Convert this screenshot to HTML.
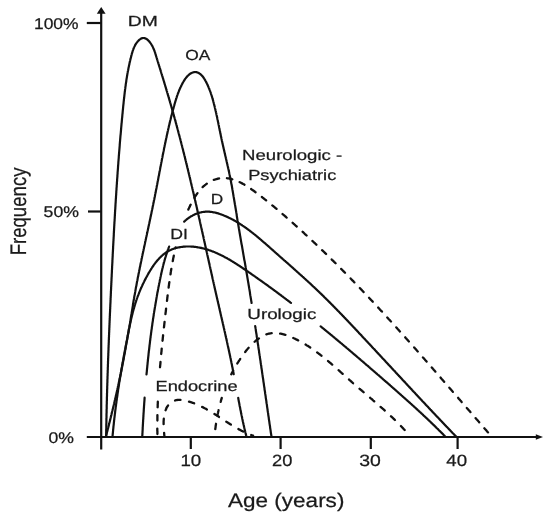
<!DOCTYPE html>
<html><head><meta charset="utf-8"><style>
html,body{margin:0;padding:0;background:#fff;}
svg{display:block;}
.solid{fill:none;stroke:#111;stroke-width:2.2;stroke-linejoin:round;stroke-linecap:round;}
.dash{fill:none;stroke:#111;stroke-width:2.3;stroke-dasharray:5.2 8.3;stroke-linecap:round;stroke-linejoin:round;}
.ax{fill:none;stroke:#111;stroke-width:2.2;}
.arr{fill:#111;stroke:none;}
.t{font-family:"Liberation Sans", Arial, sans-serif;text-rendering:geometricPrecision;fill:#1a1a1a;stroke:#1a1a1a;stroke-width:0.25;}
</style></head><body>
<svg width="550" height="517" viewBox="0 0 550 517">
<rect width="550" height="517" fill="#fff"/>
<g id="curves">
<path class="solid" d="M106.1 436.5L106.1 435.9L106.2 435.3L106.2 434.7L106.2 434.1L106.2 433.5L106.2 432.9L106.2 432.3L106.2 431.7L106.2 431.1L106.2 430.5L106.2 429.9L106.2 429.3L106.3 428.7L106.3 428.1L106.3 427.5L106.3 426.9L106.3 426.3L106.3 425.7L106.3 425.1L106.3 424.5L106.3 423.9L106.4 423.3L106.4 422.7L106.4 422.1L106.4 421.5L106.4 420.9L106.4 420.3L106.4 419.7L106.4 419.1L106.4 418.5L106.5 417.9L106.5 417.3L106.5 416.7L106.5 416.1L106.5 415.5L106.5 414.9L106.5 414.3L106.5 413.7L106.6 413.1L106.6 412.5L106.6 411.9L106.6 411.3L106.6 410.7L106.6 410.1L106.6 409.5L106.7 408.9L106.7 408.3L106.7 407.7L106.7 407.1L106.7 406.5L106.7 405.9L106.7 405.3L106.7 404.7L106.8 404.1L106.8 403.5L106.8 402.9L106.8 402.3L106.8 401.7L106.8 401.1L106.9 400.5L106.9 399.9L106.9 399.3L106.9 398.7L106.9 398.1L106.9 397.5L106.9 396.9L107.0 396.3L107.0 395.7L107.0 395.1L107.0 394.5L107.0 393.9L107.0 393.3L107.1 392.7L107.1 392.1L107.1 391.5L107.1 390.9L107.1 390.3L107.1 389.7L107.2 389.1L107.2 388.5L107.2 387.9L107.2 387.3L107.2 386.7L107.2 386.1L107.3 385.5L107.3 384.9L107.3 384.3L107.3 383.7L107.3 383.1L107.4 382.5L107.4 381.9L107.4 381.3L107.4 380.7L107.4 380.1L107.4 379.5L107.5 378.9L107.5 378.3L107.5 377.7L107.5 377.1L107.5 376.5L107.6 375.9L107.6 375.3L107.6 374.7L107.6 374.1L107.6 373.5L107.7 372.9L107.7 372.3L107.7 371.7L107.7 371.1L107.7 370.5L107.8 369.9L107.8 369.3L107.8 368.7L107.8 368.1L107.8 367.5L107.9 366.9L107.9 366.3L107.9 365.7L107.9 365.1L107.9 364.5L108.0 363.9L108.0 363.3L108.0 362.7L108.0 362.1L108.0 361.5L108.1 361.0L108.1 360.4L108.1 359.8L108.1 359.2L108.1 358.6L108.2 358.0L108.2 357.4L108.2 356.8L108.2 356.2L108.3 355.6L108.3 355.0L108.3 354.4L108.3 353.8L108.3 353.2L108.4 352.6L108.4 352.0L108.4 351.4L108.4 350.8L108.5 350.2L108.5 349.6L108.5 349.0L108.5 348.4L108.5 347.8L108.6 347.2L108.6 346.6L108.6 346.0L108.6 345.4L108.7 344.8L108.7 344.2L108.7 343.6L108.7 343.0L108.8 342.4L108.8 341.8L108.8 341.2L108.8 340.6L108.8 340.0L108.9 339.4L108.9 338.8L108.9 338.2L108.9 337.6L109.0 337.0L109.0 336.4L109.0 335.8L109.0 335.2L109.1 334.6L109.1 334.0L109.1 333.4L109.1 332.8L109.2 332.2L109.2 331.6L109.2 331.0L109.2 330.4L109.3 329.8L109.3 329.2L109.3 328.6L109.3 328.0L109.4 327.4L109.4 326.8L109.4 326.2L109.4 325.6L109.5 325.0L109.5 324.4L109.5 323.8L109.5 323.2L109.6 322.6L109.6 322.0L109.6 321.4L109.6 320.8L109.7 320.2L109.7 319.7L109.7 319.1L109.7 318.5L109.8 317.9L109.8 317.3L109.8 316.7L109.8 316.1L109.9 315.5L109.9 314.9L109.9 314.3L109.9 313.7L110.0 313.1L110.0 312.5L110.0 311.9L110.1 311.3L110.1 310.7L110.1 310.1L110.1 309.5L110.2 308.9L110.2 308.3L110.2 307.7L110.2 307.1L110.3 306.5L110.3 305.9L110.3 305.3L110.3 304.7L110.4 304.1L110.4 303.5L110.4 302.9L110.5 302.3L110.5 301.7L110.5 301.1L110.5 300.5L110.6 299.9L110.6 299.3L110.6 298.7L110.6 298.1L110.7 297.5L110.7 296.9L110.7 296.3L110.8 295.7L110.8 295.1L110.8 294.5L110.8 293.9L110.9 293.3L110.9 292.7L110.9 292.1L110.9 291.5L111.0 290.9L111.0 290.3L111.0 289.7L111.1 289.1L111.1 288.5L111.1 287.9L111.1 287.3L111.2 286.7L111.2 286.1L111.2 285.5L111.3 284.9L111.3 284.3L111.3 283.7L111.3 283.1L111.4 282.5L111.4 281.9L111.4 281.3L111.5 280.7L111.5 280.1L111.5 279.5L111.5 278.9L111.6 278.3L111.6 277.7L111.6 277.1L111.7 276.5L111.7 275.9L111.7 275.3L111.7 274.7L111.8 274.1L111.8 273.5L111.8 272.9L111.9 272.3L111.9 271.7L111.9 271.1L111.9 270.5L112.0 269.9L112.0 269.3L112.0 268.7L112.1 268.1L112.1 267.5L112.1 266.9L112.1 266.3L112.2 265.8L112.2 265.2L112.2 264.6L112.3 264.0L112.3 263.4L112.3 262.8L112.4 262.2L112.4 261.6L112.4 261.0L112.4 260.4L112.5 259.8L112.5 259.2L112.5 258.6L112.6 258.0L112.6 257.4L112.6 256.8L112.7 256.2L112.7 255.6L112.7 255.0L112.7 254.4L112.8 253.8L112.8 253.2L112.8 252.6L112.9 252.0L112.9 251.4L112.9 250.8L113.0 250.2L113.0 249.6L113.0 249.0L113.1 248.4L113.1 247.8L113.1 247.2L113.1 246.6L113.2 246.0L113.2 245.4L113.2 244.8L113.3 244.2L113.3 243.6L113.3 243.0L113.4 242.4L113.4 241.8L113.4 241.2L113.5 240.6L113.5 240.0L113.5 239.4L113.6 238.8L113.6 238.2L113.6 237.6L113.7 237.0L113.7 236.4L113.7 235.8L113.8 235.2L113.8 234.6L113.8 234.0L113.8 233.4L113.9 232.8L113.9 232.2L113.9 231.6L114.0 231.0L114.0 230.4L114.0 229.8L114.1 229.2L114.1 228.6L114.1 228.0L114.2 227.4L114.2 226.8L114.2 226.2L114.3 225.6L114.3 225.0L114.3 224.4L114.4 223.8L114.4 223.2L114.4 222.6L114.5 222.0L114.5 221.4L114.6 220.8L114.6 220.2L114.6 219.6L114.7 219.0L114.7 218.4L114.7 217.8L114.8 217.2L114.8 216.6L114.8 216.0L114.9 215.4L114.9 214.8L114.9 214.2L115.0 213.6L115.0 213.0L115.0 212.4L115.1 211.8L115.1 211.2L115.1 210.6L115.2 210.0L115.2 209.4L115.3 208.8L115.3 208.2L115.3 207.6L115.4 207.0L115.4 206.4L115.4 205.8L115.5 205.2L115.5 204.6L115.5 204.0L115.6 203.4L115.6 202.8L115.7 202.2L115.7 201.6L115.7 201.0L115.8 200.4L115.8 199.8L115.8 199.2L115.9 198.6L115.9 198.0L116.0 197.4L116.0 196.8L116.0 196.2L116.1 195.6L116.1 195.0L116.2 194.4L116.2 193.8L116.2 193.2L116.3 192.6L116.3 192.0L116.3 191.4L116.4 190.8L116.4 190.2L116.5 189.6L116.5 189.0L116.5 188.4L116.6 187.8L116.6 187.2L116.7 186.6L116.7 186.0L116.7 185.4L116.8 184.9L116.8 184.3L116.9 183.7L116.9 183.1L116.9 182.5L117.0 181.9L117.0 181.3L117.1 180.7L117.1 180.1L117.1 179.5L117.2 178.9L117.2 178.3L117.3 177.7L117.3 177.1L117.4 176.5L117.4 175.9L117.4 175.3L117.5 174.7L117.5 174.1L117.6 173.5L117.6 172.9L117.6 172.3L117.7 171.7L117.7 171.1L117.8 170.5L117.8 169.9L117.9 169.3L117.9 168.7L118.0 168.1L118.0 167.5L118.0 166.9L118.1 166.3L118.1 165.7L118.2 165.1L118.2 164.5L118.3 163.9L118.3 163.3L118.3 162.7L118.4 162.1L118.4 161.5L118.5 160.9L118.5 160.3L118.6 159.7L118.6 159.1L118.7 158.5L118.7 157.9L118.8 157.3L118.8 156.7L118.8 156.1L118.9 155.5L118.9 154.9L119.0 154.4L119.0 153.8L119.1 153.2L119.1 152.6L119.2 152.0L119.2 151.4L119.3 150.8L119.3 150.2L119.4 149.6L119.4 149.0L119.5 148.4L119.5 147.8L119.6 147.2L119.6 146.6L119.7 146.0L119.7 145.4L119.7 144.8L119.8 144.2L119.8 143.6L119.9 143.0L119.9 142.4L120.0 141.8L120.0 141.2L120.1 140.6L120.1 140.0L120.2 139.4L120.2 138.8L120.3 138.2L120.3 137.6L120.4 137.0L120.4 136.4L120.5 135.8L120.5 135.3L120.6 134.7L120.7 134.1L120.7 133.5L120.8 132.9L120.8 132.3L120.9 131.7L120.9 131.1L121.0 130.5L121.0 129.9L121.1 129.3L121.1 128.7L121.2 128.1L121.2 127.5L121.3 126.9L121.3 126.3L121.4 125.7L121.4 125.1L121.5 124.5L121.5 123.9L121.6 123.3L121.7 122.7L121.7 122.1L121.8 121.5L121.8 120.9L121.9 120.4L121.9 119.8L122.0 119.2L122.0 118.6L122.1 118.0L122.2 117.4L122.2 116.8L122.3 116.2L122.3 115.6L122.4 115.0L122.4 114.4L122.5 113.8L122.6 113.2L122.6 112.6L122.7 112.0L122.7 111.4L122.8 110.8L122.8 110.2L122.9 109.6L123.0 109.0L123.0 108.5L123.1 107.9L123.1 107.3L123.2 106.7L123.2 106.1L123.3 105.5L123.4 104.9L123.4 104.3L123.5 103.7L123.6 103.1L123.6 102.5L123.7 101.9L123.7 101.3L123.8 100.7L123.9 100.1L123.9 99.5L124.0 98.9L124.1 98.3L124.1 97.8L124.2 97.2L124.3 96.6L124.3 96.0L124.4 95.4L124.5 94.8L124.5 94.2L124.6 93.6L124.7 93.0L124.7 92.4L124.8 91.8L124.9 91.2L125.0 90.6L125.0 90.0L125.1 89.4L125.2 88.9L125.3 88.3L125.3 87.7L125.4 87.1L125.5 86.5L125.6 85.9L125.7 85.3L125.7 84.7L125.8 84.1L125.9 83.5L126.0 82.9L126.1 82.3L126.2 81.7L126.3 81.1L126.3 80.6L126.4 80.0L126.5 79.4L126.6 78.8L126.7 78.2L126.8 77.6L126.9 77.0L127.0 76.4L127.1 75.8L127.2 75.2L127.3 74.6L127.4 74.0L127.5 73.4L127.6 72.8L127.7 72.3L127.8 71.7L127.9 71.1L128.1 70.5L128.2 69.9L128.3 69.3L128.4 68.7L128.5 68.1L128.6 67.5L128.8 66.9L128.9 66.3L129.0 65.7L129.1 65.2L129.3 64.6L129.4 64.0L129.5 63.4L129.6 62.8L129.8 62.2L129.9 61.6L130.1 61.0L130.2 60.4L130.3 59.8L130.5 59.2L130.6 58.6L130.8 58.1L130.9 57.5L131.1 56.9L131.2 56.3L131.4 55.7L131.5 55.1L131.7 54.5L131.8 53.9L132.0 53.3L132.2 52.7L132.4 52.2L132.5 51.6L132.7 51.0L132.9 50.4L133.1 49.8L133.3 49.3L133.5 48.7L133.8 48.1L134.0 47.6L134.2 47.0L134.5 46.5L134.8 45.9L135.0 45.4L135.3 44.9L135.6 44.4L135.9 43.9L136.3 43.3L136.6 42.9L137.0 42.4L137.4 41.9L137.7 41.4L138.2 41.0L138.6 40.5L139.0 40.1L139.4 39.7L139.9 39.4L140.3 39.1L140.8 38.8L141.3 38.5L141.7 38.3L142.2 38.2L142.7 38.1L143.2 38.0L143.7 38.0L144.1 38.0L144.6 38.2L145.1 38.3L145.6 38.5L146.0 38.7L146.5 39.0L147.0 39.3L147.4 39.7L147.9 40.1L148.3 40.5L148.7 40.9L149.1 41.4L149.6 41.9L150.0 42.4L150.3 42.9L150.7 43.4L151.1 44.0L151.4 44.5L151.8 45.1L152.1 45.6L152.4 46.2L152.7 46.8L153.0 47.3L153.2 47.9L153.5 48.5L153.7 49.0L153.9 49.6L154.2 50.2L154.4 50.7L154.6 51.3L154.8 51.9L155.0 52.4L155.2 53.0L155.3 53.6L155.5 54.1L155.7 54.7L155.9 55.3L156.0 55.9L156.2 56.4L156.4 57.0L156.6 57.6L156.8 58.1L156.9 58.7L157.1 59.3L157.3 59.8L157.5 60.4L157.6 61.0L157.8 61.6L158.0 62.1L158.2 62.7L158.3 63.3L158.5 63.8L158.7 64.4L158.9 65.0L159.0 65.6L159.2 66.1L159.4 66.7L159.6 67.3L159.8 67.8L159.9 68.4L160.1 69.0L160.3 69.5L160.5 70.1L160.6 70.7L160.8 71.3L161.0 71.8L161.2 72.4L161.3 73.0L161.5 73.6L161.7 74.1L161.9 74.7L162.0 75.3L162.2 75.8L162.4 76.4L162.6 77.0L162.7 77.6L162.9 78.1L163.1 78.7L163.3 79.3L163.4 79.9L163.6 80.4L163.8 81.0L164.0 81.6L164.1 82.1L164.3 82.7L164.5 83.3L164.6 83.9L164.8 84.4L165.0 85.0L165.2 85.6L165.3 86.2L165.5 86.7L165.7 87.3L165.9 87.9L166.0 88.5L166.2 89.0L166.4 89.6L166.5 90.2L166.7 90.8L166.9 91.3L167.1 91.9L167.2 92.5L167.4 93.1L167.6 93.6L167.7 94.2L167.9 94.8L168.1 95.4L168.2 95.9L168.4 96.5L168.6 97.1L168.8 97.7L168.9 98.2L169.1 98.8L169.3 99.4L169.4 100.0L169.6 100.5L169.8 101.1L169.9 101.7L170.1 102.3L170.3 102.8L170.4 103.4L170.6 104.0L170.8 104.6L170.9 105.2L171.1 105.7L171.3 106.3L171.4 106.9L171.6 107.5L171.8 108.0L171.9 108.6L172.1 109.2L172.2 109.8L172.4 110.3L172.6 110.9L172.7 111.5L172.9 112.1L173.1 112.7L173.2 113.2L173.4 113.8L173.5 114.4L173.7 115.0L173.9 115.5L174.0 116.1L174.2 116.7L174.4 117.3L174.5 117.9L174.7 118.4L174.8 119.0L175.0 119.6L175.2 120.2L175.3 120.7L175.5 121.3L175.6 121.9L175.8 122.5L175.9 123.1L176.1 123.6L176.3 124.2L176.4 124.8L176.6 125.4L176.7 125.9L176.9 126.5L177.0 127.1L177.2 127.7L177.4 128.3L177.5 128.8L177.7 129.4L177.8 130.0L178.0 130.6L178.1 131.2L178.3 131.7L178.4 132.3L178.6 132.9L178.7 133.5L178.9 134.1L179.0 134.6L179.2 135.2L179.4 135.8L179.5 136.4L179.7 137.0L179.8 137.5L180.0 138.1L180.1 138.7L180.3 139.3L180.4 139.9L180.6 140.4L180.7 141.0L180.9 141.6L181.0 142.2L181.2 142.8L181.3 143.3L181.5 143.9L181.6 144.5L181.8 145.1L181.9 145.7L182.1 146.2L182.2 146.8L182.4 147.4L182.5 148.0L182.7 148.6L182.8 149.2L183.0 149.7L183.1 150.3L183.2 150.9L183.4 151.5L183.5 152.1L183.7 152.6L183.8 153.2L184.0 153.8L184.1 154.4L184.3 155.0L184.4 155.5L184.6 156.1L184.7 156.7L184.9 157.3L185.0 157.9L185.1 158.5L185.3 159.0L185.4 159.6L185.6 160.2L185.7 160.8L185.9 161.4L186.0 161.9L186.1 162.5L186.3 163.1L186.4 163.7L186.6 164.3L186.7 164.9L186.9 165.4L187.0 166.0L187.1 166.6L187.3 167.2L187.4 167.8L187.6 168.4L187.7 168.9L187.9 169.5L188.0 170.1L188.1 170.7L188.3 171.3L188.4 171.8L188.6 172.4L188.7 173.0L188.8 173.6L189.0 174.2L189.1 174.8L189.3 175.3L189.4 175.9L189.5 176.5L189.7 177.1L189.8 177.7L190.0 178.3L190.1 178.8L190.2 179.4L190.4 180.0L190.5 180.6L190.7 181.2L190.8 181.8L190.9 182.3L191.1 182.9L191.2 183.5L191.3 184.1L191.5 184.7L191.6 185.3L191.8 185.8L191.9 186.4L192.0 187.0L192.2 187.6L192.3 188.2L192.4 188.8L192.6 189.3L192.7 189.9L192.8 190.5L193.0 191.1L193.1 191.7L193.3 192.3L193.4 192.8L193.5 193.4L193.7 194.0L193.8 194.6L193.9 195.2L194.1 195.8L194.2 196.4L194.3 196.9L194.5 197.5L194.6 198.1L194.7 198.7L194.9 199.3L195.0 199.9L195.1 200.4L195.3 201.0L195.4 201.6L195.5 202.2L195.7 202.8L195.8 203.4L195.9 203.9L196.1 204.5L196.2 205.1L196.4 205.7L196.5 206.3L196.6 206.9L196.8 207.5L196.9 208.0L197.0 208.6L197.1 209.2L197.3 209.8L197.4 210.4L197.5 211.0L197.7 211.5L197.8 212.1L197.9 212.7L198.1 213.3L198.2 213.9L198.3 214.5L198.5 215.1L198.6 215.6L198.7 216.2L198.9 216.8L199.0 217.4L199.1 218.0L199.3 218.6L199.4 219.1L199.5 219.7L199.7 220.3L199.8 220.9L199.9 221.5L200.1 222.1L200.2 222.7L200.3 223.2L200.4 223.8L200.6 224.4L200.7 225.0L200.8 225.6L201.0 226.2L201.1 226.8L201.2 227.3L201.4 227.9L201.5 228.5L201.6 229.1L201.8 229.7L201.9 230.3L202.0 230.8L202.1 231.4L202.3 232.0L202.4 232.6L202.5 233.2L202.7 233.8L202.8 234.4L202.9 234.9L203.1 235.5L203.2 236.1L203.3 236.7L203.5 237.3L203.6 237.9L203.7 238.5L203.8 239.0L204.0 239.6L204.1 240.2L204.2 240.8L204.4 241.4L204.5 242.0L204.6 242.6L204.8 243.1L204.9 243.7L205.0 244.3L205.1 244.9L205.3 245.5L205.4 246.1L205.5 246.7L205.7 247.2L205.8 247.8L205.9 248.4L206.0 249.0L206.2 249.6L206.3 250.2L206.4 250.7L206.6 251.3L206.7 251.9L206.8 252.5L207.0 253.1L207.1 253.7L207.2 254.3L207.3 254.8L207.5 255.4L207.6 256.0L207.7 256.6L207.9 257.2L208.0 257.8L208.1 258.4L208.3 258.9L208.4 259.5L208.5 260.1L208.6 260.7L208.8 261.3L208.9 261.9L209.0 262.5L209.2 263.0L209.3 263.6L209.4 264.2L209.6 264.8L209.7 265.4L209.8 266.0L209.9 266.5L210.1 267.1L210.2 267.7L210.3 268.3L210.5 268.9L210.6 269.5L210.7 270.1L210.9 270.6L211.0 271.2L211.1 271.8L211.2 272.4L211.4 273.0L211.5 273.6L211.6 274.2L211.8 274.7L211.9 275.3L212.0 275.9L212.2 276.5L212.3 277.1L212.4 277.7L212.5 278.3L212.7 278.8L212.8 279.4L212.9 280.0L213.1 280.6L213.2 281.2L213.3 281.8L213.5 282.3L213.6 282.9L213.7 283.5L213.9 284.1L214.0 284.7L214.1 285.3L214.3 285.9L214.4 286.4L214.5 287.0L214.6 287.6L214.8 288.2L214.9 288.8L215.0 289.4L215.2 289.9L215.3 290.5L215.4 291.1L215.6 291.7L215.7 292.3L215.8 292.9L216.0 293.5L216.1 294.0L216.2 294.6L216.4 295.2L216.5 295.8L216.6 296.4L216.8 297.0L216.9 297.5L217.0 298.1L217.2 298.7L217.3 299.3L217.4 299.9L217.6 300.5L217.7 301.1L217.8 301.6L218.0 302.2L218.1 302.8L218.2 303.4L218.4 304.0L218.5 304.6L218.6 305.1L218.8 305.7L218.9 306.3L219.0 306.9L219.2 307.5L219.3 308.1L219.4 308.6L219.6 309.2L219.7 309.8L219.8 310.4L220.0 311.0L220.1 311.6L220.2 312.1L220.4 312.7L220.5 313.3L220.6 313.9L220.8 314.5L220.9 315.1L221.0 315.7L221.2 316.2L221.3 316.8L221.5 317.4L221.6 318.0L221.7 318.6L221.9 319.2L222.0 319.7L222.1 320.3L222.3 320.9L222.4 321.5L222.5 322.1L222.7 322.7L222.8 323.2L222.9 323.8L223.1 324.4L223.2 325.0L223.3 325.6L223.5 326.2L223.6 326.7L223.7 327.3L223.9 327.9L224.0 328.5L224.1 329.1L224.3 329.7L224.4 330.3L224.5 330.8L224.7 331.4L224.8 332.0L224.9 332.6L225.1 333.2L225.2 333.8L225.3 334.3L225.4 334.9L225.6 335.5L225.7 336.1L225.8 336.7L226.0 337.3L226.1 337.9L226.2 338.4L226.4 339.0L226.5 339.6L226.6 340.2L226.8 340.8L226.9 341.4L227.0 341.9L227.1 342.5L227.3 343.1L227.4 343.7L227.5 344.3L227.7 344.9L227.8 345.5L227.9 346.0L228.0 346.6L228.2 347.2L228.3 347.8L228.4 348.4L228.6 349.0L228.7 349.6L228.8 350.1L228.9 350.7L229.1 351.3L229.2 351.9L229.3 352.5L229.4 353.1L229.6 353.7L229.7 354.2L229.8 354.8L229.9 355.4L230.1 356.0L230.2 356.6L230.3 357.2L230.4 357.8L230.6 358.3L230.7 358.9L230.8 359.5L230.9 360.1L231.0 360.7L231.2 361.3L231.3 361.9L231.4 362.5L231.5 363.0L231.6 363.6L231.8 364.2L231.9 364.8L232.0 365.4L232.1 366.0L232.2 366.6L232.4 367.2L232.5 367.7L232.6 368.3L232.7 368.9L232.8 369.5L232.9 370.1L233.1 370.7L233.2 371.3L233.3 371.9L233.4 372.4L233.5 373.0L233.6 373.6L233.7 374.2"/>
<path class="solid" d="M238.2 397.8L238.3 398.4L238.4 399.0L238.5 399.6L238.6 400.1L238.7 400.7L238.8 401.3L238.9 401.9L239.1 402.5L239.2 403.1L239.3 403.7L239.4 404.3L239.5 404.9L239.6 405.5L239.7 406.0L239.8 406.6L240.0 407.2L240.1 407.8L240.2 408.4L240.3 409.0L240.4 409.6L240.5 410.2L240.7 410.7L240.8 411.3L240.9 411.9L241.0 412.5L241.1 413.1L241.2 413.7L241.4 414.3L241.5 414.9L241.6 415.4L241.7 416.0L241.9 416.6L242.0 417.2L242.1 417.8L242.2 418.4L242.3 419.0L242.5 419.6L242.6 420.1L242.7 420.7L242.8 421.3L243.0 421.9L243.1 422.5L243.2 423.1L243.4 423.7L243.5 424.2L243.6 424.8L243.8 425.4L243.9 426.0L244.0 426.6L244.2 427.2L244.3 427.8L244.4 428.3L244.6 428.9L244.7 429.5L244.8 430.1L245.0 430.7L245.1 431.3L245.3 431.8L245.4 432.4L245.5 433.0L245.7 433.6L245.8 434.2L246.0 434.8L246.1 435.3L246.3 435.9L246.4 436.5"/>
<path class="solid" d="M112.5 436.5L112.6 435.9L112.6 435.3L112.7 434.7L112.7 434.1L112.8 433.5L112.9 432.9L112.9 432.3L113.0 431.7L113.0 431.1L113.1 430.5L113.1 429.9L113.2 429.3L113.3 428.7L113.3 428.1L113.4 427.5L113.4 426.9L113.5 426.3L113.6 425.8L113.6 425.2L113.7 424.6L113.8 424.0L113.8 423.4L113.9 422.8L113.9 422.2L114.0 421.6L114.1 421.0L114.1 420.4L114.2 419.8L114.3 419.2L114.3 418.6L114.4 418.0L114.5 417.4L114.6 416.8L114.6 416.2L114.7 415.6L114.8 415.0L114.8 414.4L114.9 413.8L115.0 413.2L115.1 412.6L115.1 412.0L115.2 411.4L115.3 410.8L115.3 410.3L115.4 409.7L115.5 409.1L115.6 408.5L115.6 407.9L115.7 407.3L115.8 406.7L115.9 406.1L116.0 405.5L116.0 404.9L116.1 404.3L116.2 403.7L116.3 403.1L116.4 402.5L116.4 401.9L116.5 401.3L116.6 400.7L116.7 400.1L116.8 399.5L116.8 398.9L116.9 398.4L117.0 397.8L117.1 397.2L117.2 396.6L117.3 396.0L117.4 395.4L117.4 394.8L117.5 394.2L117.6 393.6L117.7 393.0L117.8 392.4L117.9 391.8L118.0 391.2L118.0 390.6L118.1 390.0L118.2 389.4L118.3 388.9L118.4 388.3L118.5 387.7L118.6 387.1L118.7 386.5L118.8 385.9L118.9 385.3L119.0 384.7L119.0 384.1L119.1 383.5L119.2 382.9L119.3 382.3L119.4 381.7L119.5 381.2L119.6 380.6L119.7 380.0L119.8 379.4L119.9 378.8L120.0 378.2L120.1 377.6L120.2 377.0L120.3 376.4L120.4 375.8L120.5 375.2L120.6 374.6L120.7 374.0L120.8 373.5L120.9 372.9L121.0 372.3L121.1 371.7L121.2 371.1L121.3 370.5L121.4 369.9L121.5 369.3L121.6 368.7L121.7 368.1L121.8 367.5L121.9 367.0L122.0 366.4L122.1 365.8L122.2 365.2L122.3 364.6L122.4 364.0L122.5 363.4L122.6 362.8L122.7 362.2L122.9 361.6L123.0 361.0L123.1 360.5L123.2 359.9L123.3 359.3L123.4 358.7L123.5 358.1L123.6 357.5L123.7 356.9L123.8 356.3L123.9 355.7L124.0 355.1L124.2 354.6L124.3 354.0L124.4 353.4L124.5 352.8L124.6 352.2L124.7 351.6L124.8 351.0L124.9 350.4L125.0 349.8L125.2 349.3L125.3 348.7L125.4 348.1L125.5 347.5L125.6 346.9L125.7 346.3L125.8 345.7L125.9 345.1L126.1 344.5L126.2 344.0L126.3 343.4L126.4 342.8L126.5 342.2L126.6 341.6L126.7 341.0L126.9 340.4L127.0 339.8L127.1 339.2L127.2 338.7L127.3 338.1L127.4 337.5L127.5 336.9L127.6 336.3L127.7 335.7L127.9 335.1L128.0 334.5L128.1 333.9L128.2 333.4L128.3 332.8L128.4 332.2L128.5 331.6L128.6 331.0L128.7 330.4L128.8 329.8L128.9 329.2L129.0 328.6L129.1 328.0L129.2 327.5L129.3 326.9L129.5 326.3L129.6 325.7L129.7 325.1L129.8 324.5L129.9 323.9L130.0 323.3L130.1 322.7L130.2 322.1L130.3 321.5L130.4 320.9L130.5 320.4L130.6 319.8L130.6 319.2L130.7 318.6L130.8 318.0L130.9 317.4L131.0 316.8L131.1 316.2L131.2 315.6L131.3 315.0L131.4 314.4L131.5 313.8L131.6 313.3L131.7 312.7L131.8 312.1L131.9 311.5L132.0 310.9L132.1 310.3L132.2 309.7L132.3 309.1L132.4 308.5L132.5 307.9L132.6 307.3L132.7 306.7L132.8 306.1L132.9 305.6L132.9 305.0L133.0 304.4L133.1 303.8L133.2 303.2L133.3 302.6L133.4 302.0L133.5 301.4L133.6 300.8L133.7 300.2L133.8 299.6L133.9 299.0L134.0 298.5L134.1 297.9L134.2 297.3L134.3 296.7L134.4 296.1L134.5 295.5L134.7 294.9L134.8 294.3L134.9 293.7L135.0 293.1L135.1 292.5L135.2 292.0L135.3 291.4L135.4 290.8L135.5 290.2L135.6 289.6L135.7 289.0L135.8 288.4L135.9 287.8L136.0 287.2L136.1 286.6L136.3 286.1L136.4 285.5L136.5 284.9L136.6 284.3L136.7 283.7L136.8 283.1L136.9 282.5L137.0 281.9L137.1 281.3L137.3 280.8L137.4 280.2L137.5 279.6L137.6 279.0L137.7 278.4L137.8 277.8L137.9 277.2L138.1 276.6L138.2 276.1L138.3 275.5L138.4 274.9L138.5 274.3L138.6 273.7L138.8 273.1L138.9 272.5L139.0 271.9L139.1 271.4L139.2 270.8L139.3 270.2L139.5 269.6L139.6 269.0L139.7 268.4L139.8 267.8L139.9 267.2L140.1 266.7L140.2 266.1L140.3 265.5L140.4 264.9L140.5 264.3L140.7 263.7L140.8 263.1L140.9 262.5L141.0 262.0L141.1 261.4L141.3 260.8L141.4 260.2L141.5 259.6L141.6 259.0L141.8 258.4L141.9 257.9L142.0 257.3L142.1 256.7L142.2 256.1L142.4 255.5L142.5 254.9L142.6 254.3L142.7 253.7L142.9 253.2L143.0 252.6L143.1 252.0L143.2 251.4L143.4 250.8L143.5 250.2L143.6 249.6L143.7 249.1L143.9 248.5L144.0 247.9L144.1 247.3L144.2 246.7L144.4 246.1L144.5 245.5L144.6 245.0L144.7 244.4L144.9 243.8L145.0 243.2L145.1 242.6L145.2 242.0L145.4 241.4L145.5 240.9L145.6 240.3L145.7 239.7L145.9 239.1L146.0 238.5L146.1 237.9L146.2 237.3L146.4 236.7L146.5 236.2L146.6 235.6L146.8 235.0L146.9 234.4L147.0 233.8L147.1 233.2L147.3 232.6L147.4 232.1L147.5 231.5L147.6 230.9L147.8 230.3L147.9 229.7L148.0 229.1L148.1 228.5L148.3 228.0L148.4 227.4L148.5 226.8L148.6 226.2L148.8 225.6L148.9 225.0L149.0 224.4L149.1 223.8L149.3 223.3L149.4 222.7L149.5 222.1L149.6 221.5L149.8 220.9L149.9 220.3L150.0 219.7L150.1 219.2L150.3 218.6L150.4 218.0L150.5 217.4L150.6 216.8L150.8 216.2L150.9 215.6L151.0 215.0L151.1 214.5L151.3 213.9L151.4 213.3L151.5 212.7L151.6 212.1L151.7 211.5L151.9 210.9L152.0 210.3L152.1 209.8L152.2 209.2L152.4 208.6L152.5 208.0L152.6 207.4L152.7 206.8L152.8 206.2L153.0 205.6L153.1 205.0L153.2 204.5L153.3 203.9L153.4 203.3L153.6 202.7L153.7 202.1L153.8 201.5L153.9 200.9L154.0 200.3L154.2 199.8L154.3 199.2L154.4 198.6L154.5 198.0L154.6 197.4L154.8 196.8L154.9 196.2L155.0 195.6L155.1 195.0L155.2 194.4L155.3 193.9L155.4 193.3L155.6 192.7L155.7 192.1L155.8 191.5L155.9 190.9L156.0 190.3L156.1 189.7L156.3 189.1L156.4 188.5L156.5 188.0L156.6 187.4L156.7 186.8L156.8 186.2L156.9 185.6L157.1 185.0L157.2 184.4L157.3 183.8L157.4 183.2L157.5 182.6L157.6 182.1L157.7 181.5L157.8 180.9L158.0 180.3L158.1 179.7L158.2 179.1L158.3 178.5L158.4 177.9L158.5 177.3L158.6 176.7L158.7 176.1L158.9 175.6L159.0 175.0L159.1 174.4L159.2 173.8L159.3 173.2L159.4 172.6L159.5 172.0L159.6 171.4L159.8 170.8L159.9 170.2L160.0 169.7L160.1 169.1L160.2 168.5L160.3 167.9L160.4 167.3L160.5 166.7L160.7 166.1L160.8 165.5L160.9 164.9L161.0 164.3L161.1 163.7L161.2 163.2L161.3 162.6L161.5 162.0L161.6 161.4L161.7 160.8L161.8 160.2L161.9 159.6L162.0 159.0L162.1 158.4L162.3 157.8L162.4 157.3L162.5 156.7L162.6 156.1L162.7 155.5L162.8 154.9L162.9 154.3L163.1 153.7L163.2 153.1L163.3 152.5L163.4 152.0L163.5 151.4L163.7 150.8L163.8 150.2L163.9 149.6L164.0 149.0L164.1 148.4L164.2 147.8L164.4 147.2L164.5 146.7L164.6 146.1L164.7 145.5L164.8 144.9L165.0 144.3L165.1 143.7L165.2 143.1L165.3 142.5L165.5 142.0L165.6 141.4L165.7 140.8L165.8 140.2L166.0 139.6L166.1 139.0L166.2 138.4L166.3 137.9L166.5 137.3L166.6 136.7L166.7 136.1L166.8 135.5L167.0 134.9L167.1 134.3L167.2 133.8L167.4 133.2L167.5 132.6L167.6 132.0L167.7 131.4L167.9 130.8L168.0 130.3L168.1 129.7L168.3 129.1L168.4 128.5L168.5 127.9L168.7 127.3L168.8 126.7L168.9 126.2L169.1 125.6L169.2 125.0L169.4 124.4L169.5 123.8L169.6 123.3L169.8 122.7L169.9 122.1L170.0 121.5L170.2 120.9L170.3 120.3L170.5 119.8L170.6 119.2L170.8 118.6L170.9 118.0L171.0 117.4L171.2 116.9L171.3 116.3L171.5 115.7L171.6 115.1L171.8 114.6L171.9 114.0L172.1 113.4L172.2 112.8L172.4 112.2L172.5 111.7L172.7 111.1L172.8 110.5L173.0 109.9L173.1 109.4L173.3 108.8L173.5 108.2L173.6 107.6L173.8 107.0L173.9 106.5L174.1 105.9L174.3 105.3L174.4 104.7L174.6 104.2L174.7 103.6L174.9 103.0L175.1 102.5L175.2 101.9L175.4 101.3L175.6 100.7L175.8 100.2L175.9 99.6L176.1 99.0L176.3 98.5L176.5 97.9L176.7 97.3L176.8 96.8L177.0 96.2L177.2 95.6L177.4 95.1L177.6 94.5L177.8 93.9L178.0 93.4L178.3 92.8L178.5 92.2L178.7 91.7L178.9 91.1L179.1 90.6L179.4 90.0L179.6 89.4L179.8 88.9L180.1 88.3L180.3 87.8L180.6 87.2L180.8 86.7L181.1 86.1L181.4 85.6L181.6 85.0L181.9 84.5L182.2 83.9L182.5 83.4L182.8 82.8L183.1 82.3L183.4 81.8L183.7 81.2L184.0 80.7L184.4 80.2L184.7 79.6L185.0 79.1L185.4 78.6L185.8 78.1L186.1 77.6L186.5 77.2L186.9 76.7L187.3 76.2L187.8 75.8L188.2 75.4L188.7 75.0L189.1 74.6L189.6 74.2L190.1 73.8L190.6 73.5L191.1 73.2L191.6 72.9L192.1 72.7L192.7 72.5L193.2 72.3L193.8 72.2L194.3 72.1L194.9 72.0L195.4 72.0L195.9 72.1L196.5 72.2L197.0 72.3L197.6 72.5L198.1 72.7L198.6 73.0L199.1 73.3L199.6 73.6L200.1 74.0L200.6 74.3L201.0 74.7L201.5 75.2L201.9 75.6L202.3 76.0L202.7 76.5L203.1 77.0L203.4 77.5L203.8 78.0L204.1 78.5L204.5 79.1L204.8 79.6L205.1 80.1L205.4 80.7L205.7 81.2L206.0 81.8L206.3 82.4L206.6 82.9L206.8 83.5L207.1 84.0L207.4 84.6L207.6 85.1L207.9 85.7L208.1 86.3L208.4 86.8L208.6 87.4L208.8 87.9L209.1 88.5L209.3 89.0L209.5 89.6L209.7 90.2L209.9 90.7L210.2 91.3L210.4 91.9L210.6 92.4L210.8 93.0L210.9 93.5L211.1 94.1L211.3 94.7L211.5 95.2L211.7 95.8L211.9 96.4L212.0 96.9L212.2 97.5L212.4 98.1L212.5 98.6L212.7 99.2L212.9 99.8L213.0 100.4L213.2 100.9L213.3 101.5L213.5 102.1L213.6 102.7L213.8 103.2L213.9 103.8L214.1 104.4L214.2 105.0L214.4 105.5L214.5 106.1L214.7 106.7L214.8 107.3L214.9 107.8L215.1 108.4L215.2 109.0L215.4 109.6L215.5 110.2L215.6 110.8L215.8 111.3L215.9 111.9L216.0 112.5L216.2 113.1L216.3 113.7L216.4 114.3L216.5 114.8L216.7 115.4L216.8 116.0L216.9 116.6L217.1 117.2L217.2 117.8L217.3 118.4L217.4 119.0L217.5 119.5L217.7 120.1L217.8 120.7L217.9 121.3L218.0 121.9L218.2 122.5L218.3 123.1L218.4 123.7L218.5 124.3L218.6 124.8L218.8 125.4L218.9 126.0L219.0 126.6L219.1 127.2L219.2 127.8L219.4 128.4L219.5 129.0L219.6 129.6L219.7 130.2L219.8 130.7L220.0 131.3L220.1 131.9L220.2 132.5L220.3 133.1L220.4 133.7L220.6 134.3L220.7 134.9L220.8 135.5L220.9 136.1L221.0 136.6L221.2 137.2L221.3 137.8L221.4 138.4L221.5 139.0L221.7 139.6L221.8 140.2L221.9 140.8L222.1 141.4L222.2 141.9L222.3 142.5L222.4 143.1L222.6 143.7L222.7 144.3L222.8 144.9L223.0 145.5L223.1 146.0L223.2 146.6L223.4 147.2L223.5 147.8L223.6 148.4L223.8 149.0L223.9 149.6L224.0 150.1L224.2 150.7L224.3 151.3L224.4 151.9L224.6 152.5L224.7 153.1L224.8 153.6L225.0 154.2L225.1 154.8L225.2 155.4L225.4 156.0L225.5 156.6L225.7 157.1L225.8 157.7L225.9 158.3L226.1 158.9L226.2 159.5L226.3 160.1L226.5 160.6L226.6 161.2L226.7 161.8L226.9 162.4L227.0 163.0L227.1 163.6L227.3 164.1L227.4 164.7L227.5 165.3L227.7 165.9L227.8 166.5L227.9 167.1L228.1 167.6L228.2 168.2L228.3 168.8L228.5 169.4L228.6 170.0L228.7 170.6L228.8 171.1L229.0 171.7L229.1 172.3L229.2 172.9L229.3 173.5L229.5 174.1L229.6 174.7L229.7 175.2L229.8 175.8L229.9 176.4L230.1 177.0L230.2 177.6L230.3 178.2L230.4 178.8L230.5 179.3L230.7 179.9L230.8 180.5L230.9 181.1L231.0 181.7L231.1 182.3L231.2 182.9L231.3 183.5L231.4 184.1L231.6 184.6L231.7 185.2L231.8 185.8L231.9 186.4L232.0 187.0L232.1 187.6L232.2 188.2L232.3 188.8L232.4 189.4L232.5 190.0L232.6 190.5L232.7 191.1L232.8 191.7L232.9 192.3L233.0 192.9L233.1 193.5L233.2 194.1L233.3 194.7L233.4 195.3L233.5 195.9L233.6 196.5L233.7 197.0L233.8 197.6L233.9 198.2L234.0 198.8L234.1 199.4L234.2 200.0L234.3 200.6L234.4 201.2L234.5 201.8L234.6 202.4L234.7 203.0L234.8 203.6L234.9 204.2L235.0 204.7L235.1 205.3L235.2 205.9L235.3 206.5L235.4 207.1L235.5 207.7L235.6 208.3L235.7 208.9L235.8 209.5L235.9 210.1L236.0 210.7L236.1 211.3L236.2 211.9L236.3 212.5L236.4 213.0L236.5 213.6L236.6 214.2L236.7 214.8L236.7 215.4L236.8 216.0L236.9 216.6L237.0 217.2L237.1 217.8L237.2 218.4L237.3 219.0L237.4 219.6L237.5 220.2L237.6 220.8L237.7 221.3L237.8 221.9L237.9 222.5L238.0 223.1L238.1 223.7L238.2 224.3L238.3 224.9L238.4 225.5L238.5 226.1L238.6 226.7L238.7 227.3L238.8 227.9L238.9 228.5L239.0 229.0L239.1 229.6L239.2 230.2L239.3 230.8L239.4 231.4L239.5 232.0L239.6 232.6L239.7 233.2L239.8 233.8L239.9 234.4L240.0 235.0L240.1 235.6L240.2 236.1L240.3 236.7L240.4 237.3L240.5 237.9L240.6 238.5L240.7 239.1L240.8 239.7L240.9 240.3L241.0 240.9L241.1 241.5L241.2 242.1L241.3 242.6L241.4 243.2L241.5 243.8L241.6 244.4L241.8 245.0L241.9 245.6L242.0 246.2L242.1 246.8L242.2 247.4L242.3 248.0L242.4 248.6L242.5 249.1L242.6 249.7L242.7 250.3L242.8 250.9L242.9 251.5L243.0 252.1L243.1 252.7L243.2 253.3L243.3 253.9L243.4 254.5L243.5 255.1L243.6 255.6L243.7 256.2L243.8 256.8L243.9 257.4L244.0 258.0L244.1 258.6L244.2 259.2L244.3 259.8L244.4 260.4L244.6 261.0L244.7 261.5L244.8 262.1L244.9 262.7L245.0 263.3L245.1 263.9L245.2 264.5L245.3 265.1L245.4 265.7L245.5 266.3L245.6 266.9L245.7 267.5L245.8 268.0L245.9 268.6L246.0 269.2L246.1 269.8L246.2 270.4L246.3 271.0L246.4 271.6L246.5 272.2L246.6 272.8L246.7 273.4L246.8 274.0L246.9 274.6L247.0 275.1L247.1 275.7L247.2 276.3L247.3 276.9L247.4 277.5L247.5 278.1L247.6 278.7L247.7 279.3L247.8 279.9L247.9 280.5L248.0 281.1L248.1 281.6L248.2 282.2L248.3 282.8L248.4 283.4L248.5 284.0L248.6 284.6L248.7 285.2L248.8 285.8L248.9 286.4L249.0 287.0L249.1 287.6L249.2 288.2L249.3 288.7L249.4 289.3L249.5 289.9L249.6 290.5L249.7 291.1L249.8 291.7L249.9 292.3L250.0 292.9L250.0 293.5L250.1 294.1L250.2 294.7L250.3 295.3L250.4 295.9L250.5 296.4L250.6 297.0L250.7 297.6L250.8 298.2L250.9 298.8L251.0 299.4L251.1 300.0L251.2 300.6L251.3 301.2L251.4 301.8L251.5 302.4L251.6 303.0"/>
<path class="solid" d="M255.2 326.1L255.3 326.7L255.4 327.3L255.5 327.9L255.6 328.5L255.7 329.0L255.8 329.6L255.8 330.2L255.9 330.8L256.0 331.4L256.1 332.0L256.2 332.6L256.3 333.2L256.4 333.8L256.5 334.4L256.6 335.0L256.7 335.6L256.7 336.2L256.8 336.8L256.9 337.4L257.0 337.9L257.1 338.5L257.2 339.1L257.3 339.7L257.4 340.3L257.5 340.9L257.6 341.5L257.6 342.1L257.7 342.7L257.8 343.3L257.9 343.9L258.0 344.5L258.1 345.1L258.2 345.7L258.3 346.3L258.4 346.8L258.4 347.4L258.5 348.0L258.6 348.6L258.7 349.2L258.8 349.8L258.9 350.4L259.0 351.0L259.1 351.6L259.1 352.2L259.2 352.8L259.3 353.4L259.4 354.0L259.5 354.6L259.6 355.2L259.7 355.8L259.8 356.3L259.9 356.9L259.9 357.5L260.0 358.1L260.1 358.7L260.2 359.3L260.3 359.9L260.4 360.5L260.5 361.1L260.6 361.7L260.6 362.3L260.7 362.9L260.8 363.5L260.9 364.1L261.0 364.7L261.1 365.2L261.2 365.8L261.3 366.4L261.3 367.0L261.4 367.6L261.5 368.2L261.6 368.8L261.7 369.4L261.8 370.0L261.9 370.6L262.0 371.2L262.0 371.8L262.1 372.4L262.2 373.0L262.3 373.6L262.4 374.2L262.5 374.7L262.6 375.3L262.6 375.9L262.7 376.5L262.8 377.1L262.9 377.7L263.0 378.3L263.1 378.9L263.2 379.5L263.3 380.1L263.3 380.7L263.4 381.3L263.5 381.9L263.6 382.5L263.7 383.1L263.8 383.7L263.9 384.3L263.9 384.8L264.0 385.4L264.1 386.0L264.2 386.6L264.3 387.2L264.4 387.8L264.5 388.4L264.5 389.0L264.6 389.6L264.7 390.2L264.8 390.8L264.9 391.4L265.0 392.0L265.1 392.6L265.1 393.2L265.2 393.8L265.3 394.3L265.4 394.9L265.5 395.5L265.6 396.1L265.7 396.7L265.7 397.3L265.8 397.9L265.9 398.5L266.0 399.1L266.1 399.7L266.2 400.3L266.3 400.9L266.4 401.5L266.4 402.1L266.5 402.7L266.6 403.3L266.7 403.8L266.8 404.4L266.9 405.0L267.0 405.6L267.0 406.2L267.1 406.8L267.2 407.4L267.3 408.0L267.4 408.6L267.5 409.2L267.6 409.8L267.6 410.4L267.7 411.0L267.8 411.6L267.9 412.2L268.0 412.8L268.1 413.3L268.2 413.9L268.2 414.5L268.3 415.1L268.4 415.7L268.5 416.3L268.6 416.9L268.7 417.5L268.8 418.1L268.8 418.7L268.9 419.3L269.0 419.9L269.1 420.5L269.2 421.1L269.3 421.7L269.4 422.3L269.4 422.8L269.5 423.4L269.6 424.0L269.7 424.6L269.8 425.2L269.9 425.8L270.0 426.4L270.1 427.0L270.1 427.6L270.2 428.2L270.3 428.8L270.4 429.4L270.5 430.0L270.6 430.6L270.7 431.2L270.7 431.7L270.8 432.3L270.9 432.9L271.0 433.5L271.1 434.1L271.2 434.7L271.3 435.3L271.4 435.9L271.4 436.5"/>
<path class="solid" d="M142.3 436.5L142.3 435.9L142.3 435.3L142.4 434.7L142.4 434.1L142.4 433.5L142.5 432.9L142.5 432.3L142.5 431.7L142.6 431.1L142.6 430.5L142.6 429.9L142.7 429.3L142.7 428.7L142.7 428.1L142.7 427.5L142.8 426.9L142.8 426.4L142.8 425.8L142.9 425.2L142.9 424.6L142.9 424.0L143.0 423.4L143.0 422.8L143.0 422.2L143.1 421.6L143.1 421.0L143.1 420.4L143.2 419.8L143.2 419.2L143.3 418.6L143.3 418.0L143.3 417.4L143.4 416.8L143.4 416.2L143.4 415.6L143.5 415.0L143.5 414.4L143.5 413.8L143.6 413.2L143.6 412.6L143.7 412.0L143.7 411.4L143.7 410.8L143.8 410.2L143.8 409.6L143.8 409.0L143.9 408.4L143.9 407.8L144.0 407.3L144.0 406.7L144.0 406.1L144.1 405.5L144.1 404.9L144.2 404.3L144.2 403.7L144.2 403.1L144.3 402.5L144.3 401.9L144.4 401.3L144.4 400.7L144.5 400.1L144.5 399.5L144.5 398.9L144.6 398.3L144.6 397.7"/>
<path class="solid" d="M146.5 374.3L146.6 373.7L146.6 373.1L146.7 372.5L146.8 371.9L146.8 371.3L146.9 370.7L146.9 370.1L147.0 369.5L147.0 368.9L147.1 368.3L147.2 367.7L147.2 367.1L147.3 366.5L147.3 365.9L147.4 365.3L147.5 364.7L147.5 364.1L147.6 363.5L147.6 362.9L147.7 362.3L147.8 361.7L147.8 361.1L147.9 360.5L147.9 359.9L148.0 359.3L148.1 358.7L148.1 358.1L148.2 357.5L148.3 356.9L148.3 356.3L148.4 355.7L148.5 355.1L148.5 354.5L148.6 353.9L148.6 353.3L148.7 352.7L148.8 352.1L148.8 351.5L148.9 350.9L149.0 350.3L149.1 349.7L149.1 349.1L149.2 348.6L149.3 348.0L149.3 347.4L149.4 346.8L149.5 346.2L149.5 345.6L149.6 345.0L149.7 344.4L149.8 343.8L149.8 343.2L149.9 342.6L150.0 342.0L150.0 341.4L150.1 340.8L150.2 340.2L150.3 339.6L150.3 339.0L150.4 338.4L150.5 337.8L150.6 337.2L150.6 336.6L150.7 336.0L150.8 335.4L150.9 334.8L151.0 334.2L151.0 333.6L151.1 333.0L151.2 332.4L151.3 331.8L151.3 331.3L151.4 330.7L151.5 330.1L151.6 329.5L151.7 328.9L151.8 328.3L151.8 327.7L151.9 327.1L152.0 326.5L152.1 325.9L152.2 325.3L152.3 324.7L152.3 324.1L152.4 323.5L152.5 322.9L152.6 322.3L152.7 321.7L152.8 321.1L152.9 320.6L152.9 320.0L153.0 319.4L153.1 318.8L153.2 318.2L153.3 317.6L153.4 317.0L153.5 316.4L153.6 315.8L153.7 315.2L153.7 314.6L153.8 314.0L153.9 313.4L154.0 312.9L154.1 312.3L154.2 311.7L154.3 311.1L154.4 310.5L154.5 309.9L154.6 309.3L154.7 308.7L154.8 308.1L154.9 307.5L155.0 306.9L155.1 306.4L155.2 305.8L155.3 305.2L155.4 304.6L155.5 304.0L155.6 303.4L155.7 302.8L155.8 302.2L155.9 301.6L156.0 301.1L156.1 300.5L156.2 299.9L156.3 299.3L156.4 298.7L156.5 298.1L156.6 297.5L156.7 296.9L156.8 296.4L156.9 295.8L157.0 295.2L157.1 294.6L157.2 294.0L157.3 293.4L157.4 292.8L157.5 292.3L157.7 291.7L157.8 291.1L157.9 290.5L158.0 289.9L158.1 289.3L158.2 288.7L158.3 288.2L158.4 287.6L158.5 287.0L158.7 286.4L158.8 285.8L158.9 285.2L159.0 284.7L159.1 284.1L159.2 283.5L159.3 282.9L159.5 282.3L159.6 281.7L159.7 281.2L159.8 280.6L159.9 280.0L160.1 279.4L160.2 278.8L160.3 278.3L160.4 277.7L160.5 277.1L160.7 276.5L160.8 275.9L160.9 275.4L161.0 274.8L161.2 274.2L161.3 273.6L161.4 273.0L161.5 272.5L161.7 271.9L161.8 271.3L161.9 270.7L162.1 270.2L162.2 269.6L162.3 269.0L162.5 268.4L162.6 267.8L162.8 267.3L162.9 266.7L163.0 266.1L163.2 265.5L163.3 265.0L163.5 264.4L163.6 263.8L163.8 263.2L163.9 262.7L164.1 262.1L164.3 261.5L164.4 260.9L164.6 260.4L164.7 259.8L164.9 259.2L165.1 258.6L165.2 258.1L165.4 257.5L165.6 256.9L165.8 256.3L165.9 255.8L166.1 255.2L166.3 254.6L166.5 254.0L166.7 253.5L166.9 252.9L167.1 252.3L167.2 251.7L167.4 251.2L167.6 250.6L167.8 250.0L168.1 249.4L168.3 248.9L168.5 248.3L168.7 247.7L168.9 247.2L169.1 246.6"/>
<path class="solid" d="M184.2 221.6L184.6 221.2L185.1 220.8L185.5 220.4L186.0 220.0L186.4 219.6L186.9 219.3L187.3 218.9L187.8 218.5L188.3 218.2L188.8 217.8L189.3 217.5L189.7 217.2L190.2 216.9L190.7 216.5L191.2 216.2L191.7 216.0L192.3 215.7L192.8 215.4L193.3 215.1L193.8 214.9L194.3 214.6L194.9 214.4L195.4 214.1L195.9 213.9L196.5 213.7L197.0 213.5L197.6 213.3L198.1 213.1L198.7 213.0L199.2 212.8L199.8 212.6L200.3 212.5L200.9 212.4L201.4 212.3L202.0 212.1L202.6 212.0L203.1 212.0L203.7 211.9L204.3 211.8L204.8 211.8L205.4 211.7L206.0 211.7L206.6 211.7L207.1 211.7L207.7 211.7L208.3 211.7L208.9 211.7L209.5 211.7L210.0 211.8L210.6 211.8L211.2 211.9L211.8 212.0L212.4 212.1L212.9 212.2L213.5 212.3L214.1 212.4L214.7 212.5L215.3 212.6L215.9 212.8L216.4 212.9L217.0 213.1L217.6 213.2L218.2 213.4L218.8 213.6L219.3 213.8L219.9 214.0L220.5 214.2L221.1 214.4L221.6 214.6L222.2 214.8L222.8 215.0L223.3 215.2L223.9 215.5L224.5 215.7L225.0 215.9L225.6 216.2L226.2 216.4L226.7 216.7L227.3 216.9L227.8 217.2L228.4 217.4L228.9 217.7L229.5 218.0L230.0 218.2L230.6 218.5L231.1 218.8L231.7 219.1L232.2 219.4L232.7 219.6L233.3 219.9L233.8 220.2L234.3 220.5L234.8 220.8L235.4 221.1L235.9 221.4L236.4 221.7L236.9 222.0L237.5 222.3L238.0 222.7L238.5 223.0L239.0 223.3L239.5 223.6L240.0 223.9L240.5 224.3L241.0 224.6L241.5 224.9L242.0 225.2L242.5 225.6L243.0 225.9L243.5 226.2L244.0 226.6L244.5 226.9L245.0 227.3L245.5 227.6L246.0 228.0L246.5 228.3L247.0 228.7L247.5 229.0L247.9 229.4L248.4 229.7L248.9 230.1L249.4 230.4L249.9 230.8L250.3 231.2L250.8 231.5L251.3 231.9L251.8 232.3L252.2 232.6L252.7 233.0L253.2 233.4L253.7 233.8L254.1 234.1L254.6 234.5L255.1 234.9L255.5 235.3L256.0 235.6L256.5 236.0L256.9 236.4L257.4 236.8L257.8 237.2L258.3 237.6L258.8 238.0L259.2 238.3L259.7 238.7L260.1 239.1L260.6 239.5L261.1 239.9L261.5 240.3L262.0 240.7L262.4 241.1L262.9 241.5L263.3 241.9L263.8 242.3L264.3 242.7L264.7 243.0L265.2 243.4L265.6 243.8L266.1 244.2L266.5 244.6L267.0 245.0L267.4 245.4L267.9 245.8L268.3 246.2L268.8 246.6L269.2 247.0L269.7 247.4L270.1 247.8L270.6 248.2L271.0 248.6L271.5 249.0L271.9 249.4L272.4 249.8L272.8 250.2L273.3 250.6L273.7 251.0L274.2 251.4L274.6 251.8L275.1 252.2L275.5 252.6L276.0 253.0L276.4 253.4L276.9 253.8L277.3 254.2L277.8 254.6L278.2 255.0L278.7 255.4L279.1 255.8L279.6 256.2L280.0 256.6L280.5 257.0L280.9 257.4L281.4 257.8L281.8 258.2L282.3 258.6L282.7 259.0L283.2 259.4L283.6 259.8L284.1 260.2L284.5 260.6L285.0 260.9L285.4 261.3L285.9 261.7L286.3 262.1L286.8 262.5L287.2 262.9L287.7 263.3L288.1 263.7L288.6 264.1L289.0 264.5L289.5 264.9L289.9 265.3L290.4 265.7L290.8 266.1L291.3 266.5L291.7 266.9L292.2 267.3L292.6 267.7L293.1 268.1L293.5 268.5L293.9 268.9L294.4 269.3L294.8 269.7L295.3 270.1L295.7 270.5L296.2 270.9L296.6 271.3L297.1 271.7L297.5 272.1L298.0 272.5L298.4 272.9L298.9 273.3L299.3 273.7L299.7 274.1L300.2 274.5L300.6 274.9L301.1 275.3L301.5 275.7L302.0 276.1L302.4 276.5L302.9 276.9L303.3 277.3L303.7 277.7L304.2 278.1L304.6 278.5L305.1 278.9L305.5 279.3L306.0 279.7L306.4 280.1L306.8 280.5L307.3 280.9L307.7 281.3L308.2 281.7L308.6 282.1L309.0 282.5L309.5 282.9L309.9 283.3L310.4 283.7L310.8 284.1L311.2 284.6L311.7 285.0L312.1 285.4L312.5 285.8L313.0 286.2L313.4 286.6L313.9 287.0L314.3 287.4L314.7 287.8L315.2 288.2L315.6 288.6L316.0 289.1L316.5 289.5L316.9 289.9L317.3 290.3L317.8 290.7L318.2 291.1L318.6 291.5L319.1 292.0L319.5 292.4L319.9 292.8L320.4 293.2L320.8 293.6L321.2 294.0L321.6 294.4L322.1 294.9L322.5 295.3L322.9 295.7L323.4 296.1L323.8 296.5L324.2 297.0L324.6 297.4L325.1 297.8L325.5 298.2L325.9 298.6L326.3 299.1L326.8 299.5L327.2 299.9L327.6 300.3L328.0 300.7L328.5 301.2L328.9 301.6L329.3 302.0L329.7 302.4L330.2 302.9L330.6 303.3L331.0 303.7L331.4 304.1L331.8 304.6L332.3 305.0L332.7 305.4L333.1 305.8L333.5 306.3L334.0 306.7L334.4 307.1L334.8 307.6L335.2 308.0L335.6 308.4L336.1 308.8L336.5 309.3L336.9 309.7L337.3 310.1L337.7 310.6L338.1 311.0L338.6 311.4L339.0 311.8L339.4 312.3L339.8 312.7L340.2 313.1L340.6 313.6L341.1 314.0L341.5 314.4L341.9 314.9L342.3 315.3L342.7 315.7L343.1 316.2L343.6 316.6L344.0 317.0L344.4 317.5L344.8 317.9L345.2 318.3L345.6 318.8L346.0 319.2L346.5 319.6L346.9 320.1L347.3 320.5L347.7 320.9L348.1 321.4L348.5 321.8L348.9 322.2L349.4 322.7L349.8 323.1L350.2 323.5L350.6 324.0L351.0 324.4L351.4 324.9L351.8 325.3L352.2 325.7L352.7 326.2L353.1 326.6L353.5 327.0L353.9 327.5L354.3 327.9L354.7 328.3L355.1 328.8L355.5 329.2L355.9 329.7L356.4 330.1L356.8 330.5L357.2 331.0L357.6 331.4L358.0 331.8L358.4 332.3L358.8 332.7L359.2 333.2L359.6 333.6L360.0 334.0L360.5 334.5L360.9 334.9L361.3 335.3L361.7 335.8L362.1 336.2L362.5 336.7L362.9 337.1L363.3 337.5L363.7 338.0L364.1 338.4L364.6 338.8L365.0 339.3L365.4 339.7L365.8 340.2L366.2 340.6L366.6 341.0L367.0 341.5L367.4 341.9L367.8 342.4L368.2 342.8L368.6 343.2L369.1 343.7L369.5 344.1L369.9 344.6L370.3 345.0L370.7 345.4L371.1 345.9L371.5 346.3L371.9 346.7L372.3 347.2L372.7 347.6L373.1 348.1L373.5 348.5L374.0 348.9L374.4 349.4L374.8 349.8L375.2 350.3L375.6 350.7L376.0 351.1L376.4 351.6L376.8 352.0L377.2 352.5L377.6 352.9L378.0 353.3L378.4 353.8L378.9 354.2L379.3 354.6L379.7 355.1L380.1 355.5L380.5 356.0L380.9 356.4L381.3 356.8L381.7 357.3L382.1 357.7L382.5 358.2L382.9 358.6L383.3 359.0L383.8 359.5L384.2 359.9L384.6 360.4L385.0 360.8L385.4 361.2L385.8 361.7L386.2 362.1L386.6 362.6L387.0 363.0L387.4 363.4L387.8 363.9L388.2 364.3L388.6 364.8L389.1 365.2L389.5 365.6L389.9 366.1L390.3 366.5L390.7 366.9L391.1 367.4L391.5 367.8L391.9 368.3L392.3 368.7L392.7 369.1L393.1 369.6L393.5 370.0L393.9 370.5L394.4 370.9L394.8 371.3L395.2 371.8L395.6 372.2L396.0 372.7L396.4 373.1L396.8 373.5L397.2 374.0L397.6 374.4L398.0 374.9L398.4 375.3L398.8 375.7L399.2 376.2L399.7 376.6L400.1 377.1L400.5 377.5L400.9 377.9L401.3 378.4L401.7 378.8L402.1 379.2L402.5 379.7L402.9 380.1L403.3 380.6L403.7 381.0L404.1 381.4L404.6 381.9L405.0 382.3L405.4 382.8L405.8 383.2L406.2 383.6L406.6 384.1L407.0 384.5L407.4 385.0L407.8 385.4L408.2 385.8L408.6 386.3L409.0 386.7L409.4 387.1L409.9 387.6L410.3 388.0L410.7 388.5L411.1 388.9L411.5 389.3L411.9 389.8L412.3 390.2L412.7 390.7L413.1 391.1L413.5 391.5L413.9 392.0L414.4 392.4L414.8 392.9L415.2 393.3L415.6 393.7L416.0 394.2L416.4 394.6L416.8 395.0L417.2 395.5L417.6 395.9L418.0 396.4L418.4 396.8L418.9 397.2L419.3 397.7L419.7 398.1L420.1 398.5L420.5 399.0L420.9 399.4L421.3 399.9L421.7 400.3L422.1 400.7L422.5 401.2L422.9 401.6L423.4 402.0L423.8 402.5L424.2 402.9L424.6 403.4L425.0 403.8L425.4 404.2L425.8 404.7L426.2 405.1L426.6 405.5L427.0 406.0L427.5 406.4L427.9 406.9L428.3 407.3L428.7 407.7L429.1 408.2L429.5 408.6L429.9 409.0L430.3 409.5L430.7 409.9L431.2 410.4L431.6 410.8L432.0 411.2L432.4 411.7L432.8 412.1L433.2 412.5L433.6 413.0L434.0 413.4L434.4 413.8L434.9 414.3L435.3 414.7L435.7 415.2L436.1 415.6L436.5 416.0L436.9 416.5L437.3 416.9L437.7 417.3L438.2 417.8L438.6 418.2L439.0 418.6L439.4 419.1L439.8 419.5L440.2 420.0L440.6 420.4L441.0 420.8L441.5 421.3L441.9 421.7L442.3 422.1L442.7 422.6L443.1 423.0L443.5 423.4L443.9 423.9L444.3 424.3L444.8 424.7L445.2 425.2L445.6 425.6L446.0 426.0L446.4 426.5L446.8 426.9L447.2 427.3L447.7 427.8L448.1 428.2L448.5 428.6L448.9 429.1L449.3 429.5L449.7 429.9L450.1 430.4L450.6 430.8L451.0 431.3L451.4 431.7L451.8 432.1L452.2 432.6L452.6 433.0L453.1 433.4L453.5 433.9L453.9 434.3L454.3 434.7L454.7 435.1L455.1 435.6L455.6 436.0L456.0 436.4"/>
<path class="solid" d="M105.9 436.5L106.1 435.9L106.2 435.3L106.4 434.7L106.5 434.2L106.7 433.6L106.8 433.0L107.0 432.4L107.1 431.8L107.3 431.3L107.4 430.7L107.6 430.1L107.7 429.5L107.9 428.9L108.0 428.4L108.2 427.8L108.3 427.2L108.5 426.6L108.6 426.0L108.8 425.5L108.9 424.9L109.0 424.3L109.2 423.7L109.3 423.1L109.5 422.6L109.6 422.0L109.8 421.4L109.9 420.8L110.1 420.2L110.2 419.6L110.4 419.1L110.5 418.5L110.6 417.9L110.8 417.3L110.9 416.7L111.1 416.1L111.2 415.6L111.4 415.0L111.5 414.4L111.6 413.8L111.8 413.2L111.9 412.7L112.1 412.1L112.2 411.5L112.3 410.9L112.5 410.3L112.6 409.7L112.8 409.2L112.9 408.6L113.0 408.0L113.2 407.4L113.3 406.8L113.5 406.2L113.6 405.7L113.7 405.1L113.9 404.5L114.0 403.9L114.2 403.3L114.3 402.7L114.4 402.1L114.6 401.6L114.7 401.0L114.8 400.4L115.0 399.8L115.1 399.2L115.2 398.6L115.4 398.1L115.5 397.5L115.7 396.9L115.8 396.3L115.9 395.7L116.1 395.1L116.2 394.5L116.3 394.0L116.5 393.4L116.6 392.8L116.7 392.2L116.9 391.6L117.0 391.0L117.1 390.4L117.2 389.9L117.4 389.3L117.5 388.7L117.6 388.1L117.8 387.5L117.9 386.9L118.0 386.3L118.2 385.8L118.3 385.2L118.4 384.6L118.5 384.0L118.7 383.4L118.8 382.8L118.9 382.2L119.0 381.6L119.2 381.1L119.3 380.5L119.4 379.9L119.5 379.3L119.7 378.7L119.8 378.1L119.9 377.5L120.0 377.0L120.2 376.4L120.3 375.8L120.4 375.2L120.5 374.6L120.7 374.0L120.8 373.4L120.9 372.8L121.0 372.2L121.1 371.7L121.3 371.1L121.4 370.5L121.5 369.9L121.6 369.3L121.7 368.7L121.8 368.1L122.0 367.5L122.1 367.0L122.2 366.4L122.3 365.8L122.4 365.2L122.5 364.6L122.7 364.0L122.8 363.4L122.9 362.8L123.0 362.2L123.1 361.6L123.2 361.1L123.3 360.5L123.4 359.9L123.6 359.3L123.7 358.7L123.8 358.1L123.9 357.5L124.0 356.9L124.1 356.3L124.2 355.7L124.3 355.2L124.4 354.6L124.5 354.0L124.7 353.4L124.8 352.8L124.9 352.2L125.0 351.6L125.1 351.0L125.2 350.4L125.3 349.8L125.4 349.3L125.5 348.7L125.6 348.1L125.7 347.5L125.8 346.9L125.9 346.3L126.0 345.7L126.1 345.1L126.2 344.5L126.3 343.9L126.4 343.3L126.5 342.8L126.6 342.2L126.7 341.6L126.9 341.0L127.0 340.4L127.1 339.8L127.2 339.2L127.3 338.6L127.4 338.0L127.5 337.4L127.6 336.9L127.7 336.3L127.8 335.7L127.9 335.1L128.0 334.5L128.1 333.9L128.2 333.3L128.4 332.7L128.5 332.2L128.6 331.6L128.7 331.0L128.8 330.4L128.9 329.8L129.0 329.2L129.1 328.6L129.3 328.0L129.4 327.5L129.5 326.9L129.6 326.3L129.7 325.7L129.8 325.1L130.0 324.5L130.1 324.0L130.2 323.4L130.3 322.8L130.5 322.2L130.6 321.6L130.7 321.0L130.8 320.5L131.0 319.9L131.1 319.3L131.2 318.7L131.4 318.1L131.5 317.6L131.7 317.0L131.8 316.4L131.9 315.8L132.1 315.2L132.2 314.7L132.4 314.1L132.5 313.5L132.7 312.9L132.8 312.4L132.9 311.8L133.1 311.2L133.3 310.6L133.4 310.1L133.6 309.5L133.7 308.9L133.9 308.3L134.1 307.8L134.2 307.2L134.4 306.6L134.6 306.1L134.7 305.5L134.9 304.9L135.1 304.3L135.2 303.8L135.4 303.2L135.6 302.6L135.8 302.1L136.0 301.5L136.2 300.9L136.3 300.4L136.5 299.8L136.7 299.3L136.9 298.7L137.1 298.1L137.3 297.6L137.5 297.0L137.7 296.4L137.9 295.9L138.2 295.3L138.4 294.8L138.6 294.2L138.8 293.7L139.0 293.1L139.2 292.5L139.5 292.0L139.7 291.4L139.9 290.9L140.1 290.3L140.4 289.8L140.6 289.2L140.8 288.7L141.1 288.1L141.3 287.6L141.6 287.0L141.8 286.5L142.1 285.9L142.3 285.4L142.6 284.8L142.8 284.3L143.1 283.7L143.4 283.2L143.6 282.6L143.9 282.1L144.2 281.5L144.4 281.0L144.7 280.4L145.0 279.9L145.3 279.4L145.6 278.8L145.8 278.3L146.1 277.7L146.4 277.2L146.7 276.6L147.0 276.1L147.3 275.6L147.6 275.0L147.9 274.5L148.2 273.9L148.5 273.4L148.8 272.8L149.2 272.3L149.5 271.8L149.8 271.2L150.1 270.7L150.4 270.2L150.8 269.6L151.1 269.1L151.4 268.6L151.8 268.0L152.1 267.5L152.5 267.0L152.8 266.5L153.2 266.0L153.5 265.4L153.9 264.9L154.3 264.4L154.6 263.9L155.0 263.4L155.4 262.9L155.7 262.4L156.1 262.0L156.5 261.5L156.9 261.0L157.3 260.5L157.7 260.1L158.1 259.6L158.5 259.2L158.9 258.7L159.3 258.3L159.7 257.8L160.2 257.4L160.6 257.0L161.0 256.6L161.4 256.2L161.9 255.8L162.3 255.4L162.8 255.0L163.2 254.6L163.7 254.2L164.1 253.9L164.6 253.5L165.1 253.2L165.6 252.8L166.0 252.5L166.5 252.2L167.0 251.9L167.5 251.6L168.0 251.3L168.5 251.0L169.0 250.7L169.5 250.5L170.0 250.2L170.6 250.0L171.1 249.8L171.6 249.5L172.1 249.3L172.7 249.1L173.2 248.9L173.8 248.7L174.3 248.5L174.9 248.4L175.4 248.2L176.0 248.0L176.5 247.9L177.1 247.7L177.7 247.6L178.2 247.5L178.8 247.4L179.4 247.3L179.9 247.2L180.5 247.1L181.1 247.0L181.7 246.9L182.2 246.8L182.8 246.8L183.4 246.7L184.0 246.6L184.6 246.6L185.2 246.6L185.8 246.5L186.4 246.5L187.0 246.5L187.5 246.5L188.1 246.5L188.7 246.5L189.3 246.5L189.9 246.5L190.5 246.5L191.1 246.6L191.7 246.6L192.3 246.6L192.9 246.7L193.5 246.7L194.1 246.8L194.7 246.9L195.3 246.9L195.9 247.0L196.5 247.1L197.1 247.2L197.7 247.3L198.2 247.4L198.8 247.5L199.4 247.6L200.0 247.7L200.6 247.8L201.2 247.9L201.8 248.1L202.3 248.2L202.9 248.3L203.5 248.5L204.1 248.6L204.6 248.8L205.2 248.9L205.8 249.1L206.4 249.3L206.9 249.4L207.5 249.6L208.1 249.8L208.6 250.0L209.2 250.2L209.7 250.4L210.3 250.5L210.9 250.7L211.4 251.0L212.0 251.2L212.5 251.4L213.1 251.6L213.6 251.8L214.2 252.0L214.7 252.3L215.3 252.5L215.8 252.7L216.4 253.0L216.9 253.2L217.5 253.4L218.0 253.7L218.5 253.9L219.1 254.2L219.6 254.4L220.2 254.7L220.7 255.0L221.2 255.2L221.8 255.5L222.3 255.8L222.8 256.0L223.4 256.3L223.9 256.6L224.4 256.9L225.0 257.2L225.5 257.5L226.0 257.7L226.6 258.0L227.1 258.3L227.6 258.6L228.1 258.9L228.7 259.2L229.2 259.5L229.7 259.8L230.2 260.1L230.7 260.5L231.3 260.8L231.8 261.1L232.3 261.4L232.8 261.7L233.3 262.0L233.8 262.3L234.4 262.7L234.9 263.0L235.4 263.3L235.9 263.6L236.4 264.0L236.9 264.3L237.4 264.6L238.0 265.0L238.5 265.3L239.0 265.6L239.5 266.0L240.0 266.3L240.5 266.6L241.0 267.0L241.5 267.3L242.0 267.6L242.5 268.0L243.0 268.3L243.5 268.7L244.0 269.0L244.5 269.3L245.1 269.7L245.6 270.0L246.1 270.4L246.6 270.7L247.1 271.1L247.6 271.4L248.1 271.7L248.6 272.1L249.1 272.4L249.6 272.8L250.1 273.1L250.6 273.5L251.1 273.8L251.6 274.2L252.1 274.5L252.6 274.9L253.1 275.2L253.6 275.5L254.1 275.9L254.6 276.2L255.1 276.6L255.6 276.9L256.1 277.3L256.5 277.6L257.0 278.0L257.5 278.3L258.0 278.7L258.5 279.0L259.0 279.4L259.5 279.7L260.0 280.1L260.5 280.4L261.0 280.8L261.5 281.1L262.0 281.5L262.5 281.8L263.0 282.2L263.5 282.5L264.0 282.9L264.4 283.2L264.9 283.6L265.4 283.9L265.9 284.3L266.4 284.6L266.9 285.0L267.4 285.3L267.9 285.7L268.4 286.1L268.8 286.4L269.3 286.8L269.8 287.1L270.3 287.5L270.8 287.8L271.3 288.2L271.8 288.5L272.3 288.9L272.7 289.2L273.2 289.6L273.7 290.0L274.2 290.3L274.7 290.7L275.2 291.0L275.7 291.4L276.1 291.7L276.6 292.1L277.1 292.5L277.6 292.8L278.1 293.2L278.6 293.5L279.0 293.9L279.5 294.3L280.0 294.6L280.5 295.0L281.0 295.3L281.4 295.7L281.9 296.1L282.4 296.4L282.9 296.8L283.4 297.1L283.8 297.5L284.3 297.9L284.8 298.2L285.3 298.6L285.8 298.9L286.2 299.3L286.7 299.7L287.2 300.0L287.7 300.4L288.1 300.8L288.6 301.1L289.1 301.5L289.6 301.8L290.1 302.2L290.5 302.6L291.0 302.9"/>
<path class="solid" d="M320.6 326.3L321.0 326.6L321.5 327.0L321.9 327.4L322.4 327.8L322.9 328.2L323.3 328.5L323.8 328.9L324.3 329.3L324.7 329.7L325.2 330.0L325.6 330.4L326.1 330.8L326.6 331.2L327.0 331.6L327.5 331.9L327.9 332.3L328.4 332.7L328.9 333.1L329.3 333.4L329.8 333.8L330.3 334.2L330.7 334.6L331.2 335.0L331.6 335.3L332.1 335.7L332.6 336.1L333.0 336.5L333.5 336.9L333.9 337.3L334.4 337.6L334.8 338.0L335.3 338.4L335.8 338.8L336.2 339.2L336.7 339.5L337.1 339.9L337.6 340.3L338.1 340.7L338.5 341.1L339.0 341.5L339.4 341.8L339.9 342.2L340.3 342.6L340.8 343.0L341.3 343.4L341.7 343.7L342.2 344.1L342.6 344.5L343.1 344.9L343.5 345.3L344.0 345.7L344.5 346.1L344.9 346.4L345.4 346.8L345.8 347.2L346.3 347.6L346.7 348.0L347.2 348.4L347.7 348.7L348.1 349.1L348.6 349.5L349.0 349.9L349.5 350.3L349.9 350.7L350.4 351.1L350.8 351.4L351.3 351.8L351.8 352.2L352.2 352.6L352.7 353.0L353.1 353.4L353.6 353.8L354.0 354.2L354.5 354.5L354.9 354.9L355.4 355.3L355.8 355.7L356.3 356.1L356.8 356.5L357.2 356.9L357.7 357.3L358.1 357.6L358.6 358.0L359.0 358.4L359.5 358.8L359.9 359.2L360.4 359.6L360.8 360.0L361.3 360.4L361.8 360.8L362.2 361.1L362.7 361.5L363.1 361.9L363.6 362.3L364.0 362.7L364.5 363.1L364.9 363.5L365.4 363.9L365.8 364.3L366.3 364.7L366.7 365.1L367.2 365.4L367.7 365.8L368.1 366.2L368.6 366.6L369.0 367.0L369.5 367.4L369.9 367.8L370.4 368.2L370.8 368.6L371.3 369.0L371.7 369.4L372.2 369.7L372.6 370.1L373.1 370.5L373.5 370.9L374.0 371.3L374.5 371.7L374.9 372.1L375.4 372.5L375.8 372.9L376.3 373.3L376.7 373.7L377.2 374.1L377.6 374.5L378.1 374.9L378.5 375.2L379.0 375.6L379.4 376.0L379.9 376.4L380.3 376.8L380.8 377.2L381.3 377.6L381.7 378.0L382.2 378.4L382.6 378.8L383.1 379.2L383.5 379.6L384.0 380.0L384.4 380.4L384.9 380.8L385.3 381.2L385.8 381.6L386.2 382.0L386.7 382.3L387.1 382.7L387.6 383.1L388.1 383.5L388.5 383.9L389.0 384.3L389.4 384.7L389.9 385.1L390.3 385.5L390.8 385.9L391.2 386.3L391.7 386.7L392.1 387.1L392.6 387.5L393.0 387.9L393.5 388.3L393.9 388.7L394.4 389.1L394.9 389.5L395.3 389.9L395.8 390.3L396.2 390.7L396.7 391.1L397.1 391.5L397.6 391.9L398.0 392.3L398.5 392.7L398.9 393.1L399.4 393.5L399.8 393.9L400.3 394.3L400.7 394.7L401.2 395.1L401.6 395.5L402.1 395.9L402.5 396.3L403.0 396.7L403.4 397.1L403.9 397.5L404.3 397.9L404.8 398.3L405.2 398.7L405.7 399.1L406.1 399.5L406.6 399.9L407.0 400.3L407.5 400.7L407.9 401.1L408.4 401.5L408.8 401.9L409.3 402.3L409.7 402.7L410.2 403.1L410.6 403.5L411.1 403.9L411.5 404.3L412.0 404.7L412.4 405.1L412.8 405.5L413.3 405.9L413.7 406.3L414.2 406.7L414.6 407.1L415.1 407.5L415.5 407.9L416.0 408.3L416.4 408.7L416.8 409.2L417.3 409.6L417.7 410.0L418.2 410.4L418.6 410.8L419.1 411.2L419.5 411.6L419.9 412.0L420.4 412.4L420.8 412.8L421.3 413.2L421.7 413.6L422.1 414.0L422.6 414.4L423.0 414.9L423.4 415.3L423.9 415.7L424.3 416.1L424.8 416.5L425.2 416.9L425.6 417.3L426.1 417.7L426.5 418.1L426.9 418.5L427.4 419.0L427.8 419.4L428.2 419.8L428.7 420.2L429.1 420.6L429.5 421.0L430.0 421.4L430.4 421.8L430.8 422.3L431.3 422.7L431.7 423.1L432.1 423.5L432.5 423.9L433.0 424.3L433.4 424.7L433.8 425.2L434.3 425.6L434.7 426.0L435.1 426.4L435.5 426.8L436.0 427.2L436.4 427.7L436.8 428.1L437.2 428.5L437.7 428.9L438.1 429.3L438.5 429.7L438.9 430.2L439.3 430.6L439.8 431.0L440.2 431.4L440.6 431.8L441.0 432.3L441.4 432.7L441.9 433.1L442.3 433.5L442.7 433.9L443.1 434.4L443.5 434.8L443.9 435.2L444.3 435.6L444.8 436.1"/>
<path class="dash" style="stroke-dasharray:5.50 7.92;stroke-dashoffset:11.54" d="M157.4 435.9L157.4 435.3L157.4 434.7L157.4 434.1L157.4 433.5L157.4 433.0L157.4 432.4L157.4 431.8L157.4 431.2L157.3 430.6L157.3 430.0L157.3 429.4L157.3 428.8L157.3 428.2L157.3 427.6L157.3 427.0L157.3 426.4L157.3 425.8L157.3 425.2L157.3 424.6L157.3 424.0L157.3 423.4L157.3 422.8L157.3 422.3L157.3 421.7L157.4 421.1L157.4 420.5L157.4 419.9L157.4 419.3L157.4 418.7L157.4 418.1L157.4 417.5L157.4 416.9L157.4 416.3L157.4 415.7L157.4 415.1L157.5 414.5L157.5 413.9L157.5 413.3L157.5 412.7L157.5 412.1L157.5 411.5L157.5 410.9L157.6 410.3L157.6 409.7L157.6 409.1L157.6 408.5L157.6 407.9L157.6 407.3L157.7 406.7L157.7 406.1L157.7 405.5L157.7 404.9L157.7 404.3L157.8 403.7L157.8 403.1L157.8 402.5L157.8 401.9L157.9 401.3L157.9 400.7L157.9 400.1L157.9 399.5L158.0 398.9L158.0 398.3L158.0 397.7"/>
<path class="dash" style="stroke-dasharray:5.50 7.92;stroke-dashoffset:6.44" d="M159.5 374.3L159.5 373.7L159.6 373.1L159.6 372.5L159.7 371.9L159.7 371.3L159.8 370.7L159.8 370.1L159.9 369.5L159.9 368.9L159.9 368.3L160.0 367.7L160.0 367.1L160.1 366.5L160.1 365.9L160.2 365.3L160.3 364.7L160.3 364.1L160.4 363.5L160.4 362.9L160.5 362.3L160.5 361.7L160.6 361.1L160.6 360.5L160.7 359.9L160.7 359.3L160.8 358.7L160.8 358.1L160.9 357.5L160.9 356.9L161.0 356.3L161.1 355.7L161.1 355.1L161.2 354.5L161.2 353.9L161.3 353.3L161.3 352.7L161.4 352.1L161.5 351.5L161.5 350.9L161.6 350.3L161.6 349.7L161.7 349.1L161.7 348.5L161.8 347.9L161.9 347.3L161.9 346.7L162.0 346.1L162.0 345.5L162.1 344.9L162.2 344.3L162.2 343.7L162.3 343.1L162.3 342.5L162.4 341.9L162.5 341.3L162.5 340.7L162.6 340.1L162.7 339.5L162.7 338.9L162.8 338.3L162.8 337.7L162.9 337.1L163.0 336.5L163.0 335.9L163.1 335.3L163.2 334.8L163.2 334.2L163.3 333.6L163.4 333.0L163.4 332.4L163.5 331.8L163.5 331.2L163.6 330.6L163.7 330.0L163.7 329.4L163.8 328.8L163.9 328.2L163.9 327.6L164.0 327.0L164.1 326.4L164.1 325.8L164.2 325.2L164.3 324.6L164.3 324.0L164.4 323.4L164.5 322.8L164.5 322.2L164.6 321.6L164.7 321.0L164.7 320.4L164.8 319.8L164.9 319.2L164.9 318.6L165.0 318.0L165.1 317.4L165.1 316.8L165.2 316.2L165.3 315.6L165.3 315.1L165.4 314.5L165.5 313.9L165.5 313.3L165.6 312.7L165.7 312.1L165.8 311.5L165.8 310.9L165.9 310.3L166.0 309.7L166.0 309.1L166.1 308.5L166.2 307.9L166.2 307.3L166.3 306.7L166.4 306.1L166.4 305.5L166.5 304.9L166.6 304.4L166.6 303.8L166.7 303.2L166.8 302.6L166.8 302.0L166.9 301.4L167.0 300.8L167.1 300.2L167.1 299.6L167.2 299.0L167.3 298.4L167.3 297.8L167.4 297.2L167.5 296.7L167.5 296.1L167.6 295.5L167.7 294.9L167.8 294.3L167.8 293.7L167.9 293.1L168.0 292.5L168.1 291.9L168.1 291.3L168.2 290.8L168.3 290.2L168.4 289.6L168.4 289.0L168.5 288.4L168.6 287.8L168.7 287.2L168.7 286.6L168.8 286.0L168.9 285.4L169.0 284.9L169.0 284.3L169.1 283.7L169.2 283.1L169.3 282.5L169.4 281.9L169.4 281.3L169.5 280.7L169.6 280.2L169.7 279.6L169.8 279.0L169.9 278.4L169.9 277.8L170.0 277.2L170.1 276.6L170.2 276.0L170.3 275.5L170.4 274.9L170.5 274.3L170.6 273.7L170.7 273.1L170.7 272.5L170.8 271.9L170.9 271.4L171.0 270.8L171.1 270.2L171.2 269.6L171.3 269.0L171.4 268.4L171.5 267.9L171.6 267.3L171.7 266.7L171.8 266.1L171.9 265.5L172.0 264.9L172.1 264.4L172.2 263.8L172.3 263.2L172.4 262.6L172.6 262.0L172.7 261.4L172.8 260.9L172.9 260.3L173.0 259.7L173.1 259.1L173.2 258.5L173.3 257.9L173.5 257.4L173.6 256.8L173.7 256.2L173.8 255.6L173.9 255.0L174.1 254.5L174.2 253.9L174.3 253.3L174.4 252.7L174.6 252.1L174.7 251.6L174.8 251.0L174.9 250.4L175.1 249.8L175.2 249.2L175.3 248.7L175.5 248.1L175.6 247.5"/>
<path class="dash" style="stroke-dasharray:5.50 7.92;stroke-dashoffset:9.06" d="M186.6 213.6L186.8 213.1L187.0 212.5L187.3 211.9L187.5 211.4L187.8 210.8L188.0 210.2L188.3 209.7L188.5 209.1L188.8 208.5L189.1 208.0L189.3 207.4L189.6 206.8L189.9 206.3L190.1 205.7L190.4 205.1L190.7 204.6L191.0 204.0L191.2 203.5L191.5 202.9L191.8 202.4L192.1 201.8L192.4 201.3L192.7 200.7L193.0 200.2L193.3 199.7L193.6 199.1L193.9 198.6L194.2 198.1L194.6 197.5L194.9 197.0L195.2 196.5L195.5 196.0L195.9 195.5L196.2 195.0L196.5 194.5L196.9 194.0L197.2 193.5L197.6 193.0L198.0 192.5L198.3 192.1L198.7 191.6L199.0 191.1L199.4 190.7L199.8 190.2L200.2 189.8L200.6 189.3L201.0 188.9L201.4 188.5L201.8 188.0L202.2 187.6L202.6 187.2L203.0 186.8L203.4 186.4L203.8 186.0L204.3 185.7L204.7 185.3L205.2 184.9L205.6 184.6L206.1 184.2L206.5 183.9L207.0 183.5L207.4 183.2L207.9 182.9L208.4 182.6L208.9 182.3L209.4 182.0L209.9 181.7L210.4 181.5L210.9 181.2L211.4 181.0L211.9 180.7L212.4 180.5L213.0 180.3L213.5 180.0L214.0 179.8L214.6 179.7L215.1 179.5L215.7 179.3L216.2 179.1L216.8 179.0L217.3 178.9L217.9 178.7L218.5 178.6L219.0 178.5L219.6 178.4L220.1 178.3L220.7 178.2L221.3 178.2L221.9 178.1L222.4 178.1L223.0 178.1L223.6 178.0L224.2 178.0L224.7 178.0L225.3 178.1L225.9 178.1L226.5 178.1L227.0 178.2L227.6 178.3L228.2 178.3L228.7 178.4L229.3 178.5L229.9 178.6L230.4 178.8L231.0 178.9L231.6 179.0L232.1 179.2L232.7 179.4L233.3 179.5L233.8 179.7L234.4 179.9L235.0 180.1L235.5 180.3L236.1 180.5L236.6 180.8L237.2 181.0L237.7 181.2L238.3 181.5L238.9 181.7L239.4 182.0L240.0 182.3L240.5 182.5L241.0 182.8L241.6 183.1L242.1 183.4L242.7 183.7L243.2 184.0L243.8 184.3L244.3 184.6L244.8 184.9L245.4 185.3L245.9 185.6L246.4 185.9L247.0 186.2L247.5 186.6L248.0 186.9L248.5 187.3L249.0 187.6L249.6 187.9L250.1 188.3L250.6 188.6L251.1 189.0L251.6 189.4L252.1 189.7L252.6 190.1L253.1 190.4L253.6 190.8L254.1 191.1L254.6 191.5L255.1 191.9L255.6 192.2L256.1 192.6L256.6 192.9L257.1 193.3L257.6 193.7L258.1 194.0L258.6 194.4L259.0 194.8L259.5 195.1L260.0 195.5L260.5 195.9L261.0 196.2L261.4 196.6L261.9 197.0L262.4 197.4L262.9 197.7L263.3 198.1L263.8 198.5L264.3 198.9L264.8 199.2L265.2 199.6L265.7 200.0L266.2 200.4L266.6 200.7L267.1 201.1L267.6 201.5L268.0 201.9L268.5 202.2L269.0 202.6L269.4 203.0L269.9 203.4L270.4 203.8L270.8 204.1L271.3 204.5L271.8 204.9L272.2 205.3L272.7 205.7L273.1 206.0L273.6 206.4L274.1 206.8L274.5 207.2L275.0 207.6L275.4 208.0L275.9 208.3L276.4 208.7L276.8 209.1L277.3 209.5L277.7 209.9L278.2 210.3L278.6 210.7L279.1 211.1L279.6 211.4L280.0 211.8L280.5 212.2L280.9 212.6L281.4 213.0L281.8 213.4L282.3 213.8L282.7 214.2L283.2 214.6L283.6 214.9L284.1 215.3L284.5 215.7L285.0 216.1L285.4 216.5L285.9 216.9L286.3 217.3L286.8 217.7L287.2 218.1L287.7 218.5L288.1 218.9L288.6 219.3L289.0 219.7L289.5 220.1L289.9 220.5L290.4 220.9L290.8 221.2L291.3 221.6L291.7 222.0L292.2 222.4L292.6 222.8L293.1 223.2L293.5 223.6L294.0 224.0L294.4 224.4L294.9 224.8L295.3 225.2L295.7 225.6L296.2 226.0L296.6 226.4L297.1 226.8L297.5 227.2L298.0 227.6L298.4 228.0L298.9 228.4L299.3 228.8L299.7 229.2L300.2 229.6L300.6 230.0L301.1 230.4L301.5 230.8L302.0 231.2L302.4 231.6L302.8 232.0L303.3 232.4L303.7 232.8L304.2 233.3L304.6 233.7L305.0 234.1L305.5 234.5L305.9 234.9L306.4 235.3L306.8 235.7L307.2 236.1L307.7 236.5L308.1 236.9L308.6 237.3L309.0 237.7L309.4 238.1L309.9 238.5L310.3 238.9L310.7 239.3L311.2 239.8L311.6 240.2L312.0 240.6L312.5 241.0L312.9 241.4L313.4 241.8L313.8 242.2L314.2 242.6L314.7 243.0L315.1 243.4L315.5 243.9L316.0 244.3L316.4 244.7L316.8 245.1L317.3 245.5L317.7 245.9L318.1 246.3L318.6 246.7L319.0 247.2L319.4 247.6L319.9 248.0L320.3 248.4L320.7 248.8L321.2 249.2L321.6 249.6L322.0 250.1L322.5 250.5L322.9 250.9L323.3 251.3L323.7 251.7L324.2 252.1L324.6 252.5L325.0 253.0L325.5 253.4L325.9 253.8L326.3 254.2L326.8 254.6L327.2 255.0L327.6 255.5L328.0 255.9L328.5 256.3L328.9 256.7L329.3 257.1L329.7 257.6L330.2 258.0L330.6 258.4L331.0 258.8L331.5 259.2L331.9 259.7L332.3 260.1L332.7 260.5L333.2 260.9L333.6 261.3L334.0 261.8L334.4 262.2L334.9 262.6L335.3 263.0L335.7 263.4L336.1 263.9L336.6 264.3L337.0 264.7L337.4 265.1L337.8 265.6L338.3 266.0L338.7 266.4L339.1 266.8L339.5 267.2L339.9 267.7L340.4 268.1L340.8 268.5L341.2 268.9L341.6 269.4L342.1 269.8L342.5 270.2L342.9 270.6L343.3 271.1L343.7 271.5L344.2 271.9L344.6 272.4L345.0 272.8L345.4 273.2L345.8 273.6L346.3 274.1L346.7 274.5L347.1 274.9L347.5 275.3L347.9 275.8L348.4 276.2L348.8 276.6L349.2 277.1L349.6 277.5L350.0 277.9L350.5 278.3L350.9 278.8L351.3 279.2L351.7 279.6L352.1 280.1L352.5 280.5L353.0 280.9L353.4 281.3L353.8 281.8L354.2 282.2L354.6 282.6L355.0 283.1L355.5 283.5L355.9 283.9L356.3 284.4L356.7 284.8L357.1 285.2L357.5 285.7L358.0 286.1L358.4 286.5L358.8 287.0L359.2 287.4L359.6 287.8L360.0 288.3L360.4 288.7L360.9 289.1L361.3 289.6L361.7 290.0L362.1 290.4L362.5 290.9L362.9 291.3L363.3 291.7L363.7 292.2L364.2 292.6L364.6 293.0L365.0 293.5L365.4 293.9L365.8 294.3L366.2 294.8L366.6 295.2L367.0 295.6L367.5 296.1L367.9 296.5L368.3 297.0L368.7 297.4L369.1 297.8L369.5 298.3L369.9 298.7L370.3 299.1L370.7 299.6L371.1 300.0L371.6 300.5L372.0 300.9L372.4 301.3L372.8 301.8L373.2 302.2L373.6 302.6L374.0 303.1L374.4 303.5L374.8 304.0L375.2 304.4L375.6 304.8L376.1 305.3L376.5 305.7L376.9 306.2L377.3 306.6L377.7 307.0L378.1 307.5L378.5 307.9L378.9 308.4L379.3 308.8L379.7 309.2L380.1 309.7L380.5 310.1L380.9 310.6L381.3 311.0L381.8 311.4L382.2 311.9L382.6 312.3L383.0 312.8L383.4 313.2L383.8 313.6L384.2 314.1L384.6 314.5L385.0 315.0L385.4 315.4L385.8 315.9L386.2 316.3L386.6 316.7L387.0 317.2L387.4 317.6L387.8 318.1L388.2 318.5L388.6 319.0L389.0 319.4L389.5 319.8L389.9 320.3L390.3 320.7L390.7 321.2L391.1 321.6L391.5 322.1L391.9 322.5L392.3 323.0L392.7 323.4L393.1 323.8L393.5 324.3L393.9 324.7L394.3 325.2L394.7 325.6L395.1 326.1L395.5 326.5L395.9 327.0L396.3 327.4L396.7 327.9L397.1 328.3L397.5 328.7L397.9 329.2L398.3 329.6L398.7 330.1L399.1 330.5L399.5 331.0L399.9 331.4L400.3 331.9L400.7 332.3L401.1 332.8L401.5 333.2L401.9 333.7L402.3 334.1L402.7 334.5L403.1 335.0L403.5 335.4L403.9 335.9L404.3 336.3L404.7 336.8L405.1 337.2L405.5 337.7L405.9 338.1L406.3 338.6L406.7 339.0L407.1 339.5L407.5 339.9L407.9 340.4L408.3 340.8L408.7 341.3L409.1 341.7L409.5 342.2L409.9 342.6L410.3 343.1L410.7 343.5L411.1 344.0L411.5 344.4L411.9 344.9L412.3 345.3L412.7 345.8L413.1 346.2L413.5 346.7L413.9 347.1L414.3 347.6L414.7 348.0L415.1 348.5L415.5 348.9L415.9 349.4L416.3 349.8L416.7 350.3L417.1 350.7L417.5 351.2L417.9 351.6L418.3 352.1L418.7 352.5L419.0 353.0L419.4 353.4L419.8 353.9L420.2 354.3L420.6 354.8L421.0 355.2L421.4 355.7L421.8 356.1L422.2 356.6L422.6 357.0L423.0 357.5L423.4 357.9L423.8 358.4L424.2 358.8L424.6 359.3L425.0 359.7L425.4 360.2L425.8 360.6L426.2 361.1L426.6 361.5L427.0 362.0L427.4 362.4L427.8 362.9L428.1 363.3L428.5 363.8L428.9 364.2L429.3 364.7L429.7 365.1L430.1 365.6L430.5 366.0L430.9 366.5L431.3 366.9L431.7 367.4L432.1 367.9L432.5 368.3L432.9 368.8L433.3 369.2L433.7 369.7L434.1 370.1L434.5 370.6L434.9 371.0L435.2 371.5L435.6 371.9L436.0 372.4L436.4 372.8L436.8 373.3L437.2 373.7L437.6 374.2L438.0 374.6L438.4 375.1L438.8 375.5L439.2 376.0L439.6 376.4L440.0 376.9L440.4 377.4L440.8 377.8L441.1 378.3L441.5 378.7L441.9 379.2L442.3 379.6L442.7 380.1L443.1 380.5L443.5 381.0L443.9 381.4L444.3 381.9L444.7 382.3L445.1 382.8L445.5 383.2L445.9 383.7L446.3 384.1L446.6 384.6L447.0 385.1L447.4 385.5L447.8 386.0L448.2 386.4L448.6 386.9L449.0 387.3L449.4 387.8L449.8 388.2L450.2 388.7L450.6 389.1L451.0 389.6L451.4 390.0L451.7 390.5L452.1 390.9L452.5 391.4L452.9 391.9L453.3 392.3L453.7 392.8L454.1 393.2L454.5 393.7L454.9 394.1L455.3 394.6L455.7 395.0L456.1 395.5L456.5 395.9L456.8 396.4L457.2 396.8L457.6 397.3L458.0 397.7L458.4 398.2L458.8 398.7L459.2 399.1L459.6 399.6L460.0 400.0L460.4 400.5L460.8 400.9L461.2 401.4L461.5 401.8L461.9 402.3L462.3 402.7L462.7 403.2L463.1 403.6L463.5 404.1L463.9 404.5L464.3 405.0L464.7 405.4L465.1 405.9L465.5 406.4L465.8 406.8L466.2 407.3L466.6 407.7L467.0 408.2L467.4 408.6L467.8 409.1L468.2 409.5L468.6 410.0L469.0 410.4L469.4 410.9L469.8 411.3L470.2 411.8L470.5 412.2L470.9 412.7L471.3 413.1L471.7 413.6L472.1 414.1L472.5 414.5L472.9 415.0L473.3 415.4L473.7 415.9L474.1 416.3L474.5 416.8L474.9 417.2L475.2 417.7L475.6 418.1L476.0 418.6L476.4 419.0L476.8 419.5L477.2 419.9L477.6 420.4L478.0 420.8L478.4 421.3L478.8 421.7L479.2 422.2L479.5 422.6L479.9 423.1L480.3 423.5L480.7 424.0L481.1 424.4L481.5 424.9L481.9 425.3L482.3 425.8L482.7 426.3L483.1 426.7L483.5 427.2L483.9 427.6L484.2 428.1L484.6 428.5L485.0 429.0L485.4 429.4L485.8 429.9L486.2 430.3L486.6 430.8L487.0 431.2L487.4 431.7L487.8 432.1L488.2 432.6L488.6 433.0L488.9 433.5L489.3 433.9L489.7 434.4L490.1 434.8"/>
<path class="dash" style="stroke-dasharray:5.50 8.48;stroke-dashoffset:7.03" d="M214.6 436.1L214.6 435.5L214.7 434.9L214.7 434.3L214.8 433.7L214.9 433.1L214.9 432.5L215.0 431.8L215.1 431.2L215.1 430.6L215.2 430.0L215.3 429.4L215.3 428.8L215.4 428.2L215.5 427.6L215.6 427.0L215.6 426.4L215.7 425.8L215.8 425.2L215.9 424.6L216.0 424.0L216.1 423.4L216.2 422.8L216.3 422.2L216.3 421.6L216.4 421.0L216.5 420.4L216.6 419.8L216.7 419.2L216.8 418.6L216.9 418.0L217.1 417.4L217.2 416.9L217.3 416.3L217.4 415.7L217.5 415.1L217.6 414.5L217.7 413.9L217.9 413.3L218.0 412.8L218.1 412.2L218.2 411.6L218.4 411.0L218.5 410.4L218.6 409.8L218.7 409.3L218.9 408.7L219.0 408.1L219.2 407.5L219.3 407.0L219.4 406.4L219.6 405.8L219.7 405.2L219.9 404.7L220.0 404.1L220.2 403.5L220.3 402.9L220.5 402.4L220.7 401.8L220.8 401.2L221.0 400.7L221.1 400.1L221.3 399.5L221.5 399.0L221.7 398.4L221.8 397.8"/>
<path class="dash" style="stroke-dasharray:5.50 8.48;stroke-dashoffset:1.63" d="M231.3 374.3L231.6 373.7L231.9 373.2L232.1 372.7L232.4 372.1L232.7 371.6L233.0 371.1L233.3 370.5L233.5 370.0L233.8 369.5L234.1 369.0L234.4 368.4L234.7 367.9L235.0 367.4L235.3 366.9L235.6 366.3L235.9 365.8L236.2 365.3L236.5 364.8L236.9 364.2L237.2 363.7L237.5 363.2L237.8 362.7L238.1 362.2L238.5 361.6L238.8 361.1L239.1 360.6L239.5 360.1L239.8 359.6L240.1 359.1L240.5 358.5L240.8 358.0L241.2 357.5L241.5 357.0L241.9 356.5L242.2 356.0L242.6 355.5L242.9 355.0L243.3 354.5L243.7 354.0L244.0 353.5L244.4 353.0L244.8 352.5L245.2 352.0L245.6 351.5L245.9 351.0L246.3 350.5L246.7 350.0L247.1 349.6L247.5 349.1L247.9 348.6L248.3 348.1L248.7 347.7L249.1 347.2L249.6 346.8L250.0 346.3L250.4 345.8L250.8 345.4L251.3 345.0L251.7 344.5L252.1 344.1L252.6 343.7L253.0 343.2L253.5 342.8L253.9 342.4L254.4 342.0L254.8 341.6L255.3 341.2L255.8 340.8L256.2 340.4L256.7 340.0L257.2 339.7L257.7 339.3L258.2 338.9L258.7 338.6L259.2 338.2L259.7 337.9L260.2 337.5L260.7 337.2L261.2 336.9L261.7 336.6L262.2 336.3L262.7 336.0L263.2 335.8L263.8 335.5L264.3 335.3L264.8 335.0L265.4 334.8L265.9 334.6L266.4 334.4L267.0 334.2L267.5 334.0L268.1 333.8L268.6 333.7L269.1 333.6L269.7 333.5L270.2 333.4L270.8 333.3L271.4 333.2L271.9 333.1L272.5 333.1L273.0 333.0L273.6 333.0L274.2 333.0L274.7 333.0L275.3 333.0L275.8 333.0L276.4 333.1L277.0 333.1L277.5 333.2L278.1 333.2L278.7 333.3L279.2 333.4L279.8 333.5L280.4 333.6L281.0 333.7L281.5 333.8L282.1 334.0L282.7 334.1L283.2 334.3L283.8 334.4L284.4 334.6L284.9 334.8L285.5 334.9L286.1 335.1L286.6 335.3L287.2 335.5L287.8 335.7L288.3 335.9L288.9 336.1L289.5 336.4L290.0 336.6L290.6 336.8L291.1 337.1L291.7 337.3L292.2 337.5L292.8 337.8L293.3 338.0L293.9 338.3L294.4 338.5L295.0 338.8L295.5 339.1L296.1 339.3L296.6 339.6L297.1 339.9L297.7 340.1L298.2 340.4L298.7 340.7L299.3 341.0L299.8 341.2L300.3 341.5L300.9 341.8L301.4 342.1L301.9 342.4L302.4 342.7L302.9 343.0L303.5 343.3L304.0 343.6L304.5 343.9L305.0 344.2L305.5 344.5L306.0 344.8L306.5 345.2L307.0 345.5L307.6 345.8L308.1 346.1L308.6 346.4L309.1 346.8L309.6 347.1L310.1 347.4L310.6 347.8L311.1 348.1L311.6 348.4L312.0 348.8L312.5 349.1L313.0 349.4L313.5 349.8L314.0 350.1L314.5 350.5L315.0 350.8L315.5 351.2L316.0 351.5L316.4 351.9L316.9 352.2L317.4 352.6L317.9 353.0L318.4 353.3L318.8 353.7L319.3 354.0L319.8 354.4L320.3 354.8L320.7 355.1L321.2 355.5L321.7 355.9L322.2 356.3L322.6 356.6L323.1 357.0L323.6 357.4L324.0 357.8L324.5 358.1L325.0 358.5L325.4 358.9L325.9 359.3L326.4 359.7L326.8 360.0L327.3 360.4L327.7 360.8L328.2 361.2L328.7 361.6L329.1 362.0L329.6 362.4L330.0 362.8L330.5 363.1L331.0 363.5L331.4 363.9L331.9 364.3L332.3 364.7L332.8 365.1L333.2 365.5L333.7 365.9L334.1 366.3L334.6 366.7L335.1 367.1L335.5 367.5L336.0 367.9L336.4 368.3L336.9 368.7L337.3 369.1L337.8 369.5L338.2 369.9L338.7 370.3L339.1 370.7L339.6 371.1L340.0 371.5L340.5 371.9L340.9 372.3L341.4 372.7L341.8 373.1L342.3 373.5L342.7 373.9L343.2 374.3L343.6 374.7L344.1 375.1L344.5 375.5L345.0 375.9L345.4 376.3L345.9 376.7L346.3 377.1L346.7 377.5L347.2 377.9L347.6 378.3L348.1 378.7L348.5 379.1L349.0 379.5L349.4 379.9L349.9 380.3L350.3 380.7L350.8 381.1L351.2 381.5L351.7 381.9L352.1 382.3L352.6 382.7L353.0 383.1L353.5 383.5L354.0 383.9L354.4 384.3L354.9 384.7L355.3 385.1L355.8 385.5L356.2 385.9L356.7 386.2L357.1 386.6L357.6 387.0L358.0 387.4L358.5 387.8L358.9 388.2L359.4 388.6L359.8 389.0L360.3 389.4L360.7 389.8L361.2 390.1L361.7 390.5L362.1 390.9L362.6 391.3L363.0 391.7L363.5 392.1L363.9 392.5L364.4 392.9L364.8 393.2L365.3 393.6L365.7 394.0L366.2 394.4L366.6 394.8L367.1 395.2L367.6 395.6L368.0 396.0L368.5 396.3L368.9 396.7L369.4 397.1L369.8 397.5L370.3 397.9L370.7 398.3L371.2 398.7L371.6 399.0L372.1 399.4L372.5 399.8L373.0 400.2L373.4 400.6L373.9 401.0L374.3 401.4L374.8 401.8L375.2 402.2L375.7 402.5L376.1 402.9L376.6 403.3L377.0 403.7L377.5 404.1L377.9 404.5L378.4 404.9L378.8 405.3L379.3 405.7L379.7 406.1L380.2 406.5L380.6 406.9L381.1 407.2L381.5 407.6L382.0 408.0L382.4 408.4L382.9 408.8L383.3 409.2L383.8 409.6L384.2 410.0L384.6 410.4L385.1 410.8L385.5 411.2L386.0 411.6L386.4 412.0L386.8 412.4L387.3 412.8L387.7 413.2L388.2 413.6L388.6 414.0L389.0 414.4L389.5 414.8L389.9 415.3L390.4 415.7L390.8 416.1L391.2 416.5L391.7 416.9L392.1 417.3L392.5 417.7L393.0 418.1L393.4 418.5L393.8 419.0L394.3 419.4L394.7 419.8L395.1 420.2L395.5 420.6L396.0 421.1L396.4 421.5L396.8 421.9L397.2 422.3L397.7 422.7L398.1 423.2L398.5 423.6L398.9 424.0L399.4 424.5L399.8 424.9L400.2 425.3L400.6 425.7L401.0 426.2L401.5 426.6L401.9 427.1L402.3 427.5L402.7 427.9L403.1 428.4L403.5 428.8L403.9 429.3L404.4 429.7L404.8 430.1L405.2 430.6L405.6 431.0L406.0 431.5L406.4 431.9L406.8 432.4L407.2 432.9L407.6 433.3L408.0 433.8L408.4 434.2L408.8 434.7L409.2 435.1L409.6 435.6"/>
<path class="dash" style="stroke-dasharray:5.50 8.70;stroke-dashoffset:2.54" d="M164.4 435.8L164.3 435.3L164.3 434.9L164.2 434.4L164.2 433.8L164.1 433.3L164.1 432.8L164.0 432.2L164.0 431.7L163.9 431.1L163.9 430.5L163.8 429.9L163.8 429.3L163.7 428.7L163.7 428.1L163.7 427.5L163.7 426.9L163.6 426.3L163.6 425.6L163.6 425.0L163.6 424.4L163.6 423.7L163.6 423.1L163.6 422.4L163.6 421.8L163.6 421.1L163.7 420.4L163.7 419.8L163.8 419.1L163.8 418.5L163.9 417.8L164.0 417.2L164.0 416.6L164.1 415.9L164.2 415.3L164.4 414.7L164.5 414.0L164.6 413.4L164.8 412.8L164.9 412.2L165.1 411.6L165.3 411.0L165.5 410.4L165.7 409.9L165.9 409.3L166.2 408.8L166.4 408.2L166.7 407.7L166.9 407.2L167.2 406.7L167.6 406.2L167.9 405.7L168.2 405.3L168.6 404.8L169.0 404.4L169.3 404.0L169.8 403.6L170.2 403.2L170.6 402.8L171.0 402.5L171.5 402.2L172.0 401.9L172.4 401.6L172.9 401.3L173.4 401.1L173.9 400.9L174.4 400.7L175.0 400.5L175.5 400.3L176.0 400.2L176.6 400.1L177.1 400.0L177.7 399.9L178.3 399.9L178.8 399.9L179.4 399.9L180.0 399.9L180.5 399.9L181.1 399.9L181.7 400.0L182.3 400.1L182.9 400.2L183.5 400.2L184.1 400.4L184.7 400.5L185.2 400.6L185.8 400.7L186.4 400.9L187.0 401.0L187.6 401.2L188.2 401.4L188.8 401.5L189.3 401.7L189.9 401.9L190.5 402.1L191.1 402.2L191.6 402.4L192.2 402.6L192.8 402.8L193.3 403.0L193.9 403.2L194.4 403.5L195.0 403.7L195.5 403.9L196.1 404.1L196.6 404.4L197.2 404.6L197.7 404.8L198.3 405.1L198.8 405.3L199.4 405.6L199.9 405.8L200.5 406.1L201.0 406.3L201.5 406.6L202.1 406.9L202.6 407.1L203.1 407.4L203.7 407.7L204.2 408.0L204.7 408.3L205.2 408.5L205.8 408.8L206.3 409.1L206.8 409.4L207.3 409.7L207.9 410.0L208.4 410.3L208.9 410.6L209.4 410.9L209.9 411.2L210.5 411.5L211.0 411.8L211.5 412.1L212.0 412.5L212.5 412.8L213.0 413.1L213.5 413.4L214.0 413.7L214.6 414.0L215.1 414.4L215.6 414.7L216.1 415.0L216.6 415.3L217.1 415.7L217.6 416.0L218.1 416.3L218.6 416.6L219.1 417.0L219.6 417.3L220.1 417.6L220.6 418.0L221.1 418.3L221.6 418.6L222.2 419.0L222.7 419.3L223.2 419.6L223.7 419.9L224.2 420.3L224.7 420.6L225.2 420.9L225.7 421.3L226.2 421.6L226.7 421.9L227.2 422.2L227.7 422.6L228.2 422.9L228.7 423.2L229.2 423.5L229.7 423.9L230.3 424.2L230.8 424.5L231.3 424.8L231.8 425.1L232.3 425.5L232.8 425.8L233.3 426.1L233.8 426.4L234.3 426.7L234.9 427.0L235.4 427.3L235.9 427.6L236.4 427.9L236.9 428.2L237.4 428.5L238.0 428.8L238.5 429.1L239.0 429.4L239.5 429.7L240.1 429.9L240.6 430.2L241.1 430.5L241.6 430.8L242.2 431.0L242.7 431.3L243.2 431.6L243.8 431.8L244.3 432.1L244.8 432.4L245.4 432.6L245.9 432.9L246.5 433.1L247.0 433.3L247.5 433.6L248.1 433.8L248.6 434.0L249.2 434.3L249.7 434.5L250.3 434.7L250.8 434.9L251.4 435.1L252.0 435.3L252.5 435.5L253.1 435.7"/>
</g>
<g id="axes">
<path class="ax" d="M101.2 13 V449.5"/>
<path class="arr" d="M101.2 7 L105.6 13.8 L96.8 13.8 Z"/>
<path class="ax" d="M86.8 437 H536.5"/>
<path class="arr" d="M543 437 L535.8 434.2 L535.8 439.8 Z"/>
<path class="ax" d="M86.8 23 H101.2"/>
<path class="ax" d="M88 211.5 H101.2"/>
<path class="ax" d="M190.8 437 V449"/>
<path class="ax" d="M280.6 437 V449"/>
<path class="ax" d="M370.8 437 V449"/>
<path class="ax" d="M457.6 437 V449"/>
</g>
<g id="texts">
<text class="t" font-size="15.50" x="33.97" y="28.90" textLength="44.53" lengthAdjust="spacingAndGlyphs">100%</text>
<text class="t" font-size="15.50" x="43.56" y="217.30" textLength="35.39" lengthAdjust="spacingAndGlyphs">50%</text>
<text class="t" font-size="15.50" x="48.54" y="442.50" textLength="25.45" lengthAdjust="spacingAndGlyphs">0%</text>
<text class="t" font-size="14.60" x="127.83" y="25.70" textLength="30.05" lengthAdjust="spacingAndGlyphs">DM</text>
<text class="t" font-size="14.60" x="185.15" y="60.10" textLength="25.09" lengthAdjust="spacingAndGlyphs">OA</text>
<text class="t" font-size="14.60" x="210.69" y="203.60" textLength="12.44" lengthAdjust="spacingAndGlyphs">D</text>
<text class="t" font-size="14.60" x="170.39" y="238.50" textLength="17.64" lengthAdjust="spacingAndGlyphs">DI</text>
<text class="t" font-size="14.60" x="242.08" y="159.70" textLength="100.09" lengthAdjust="spacingAndGlyphs">Neurologic -</text>
<text class="t" font-size="14.60" x="248.20" y="180.00" textLength="88.07" lengthAdjust="spacingAndGlyphs">Psychiatric</text>
<text class="t" font-size="14.60" x="247.32" y="319.30" textLength="69.00" lengthAdjust="spacingAndGlyphs">Urologic</text>
<text class="t" font-size="14.60" x="155.51" y="390.90" textLength="82.18" lengthAdjust="spacingAndGlyphs">Endocrine</text>
<text class="t" font-size="16.30" x="180.46" y="466.00" textLength="20.82" lengthAdjust="spacingAndGlyphs">10</text>
<text class="t" font-size="16.30" x="272.04" y="466.00" textLength="20.33" lengthAdjust="spacingAndGlyphs">20</text>
<text class="t" font-size="16.30" x="359.15" y="466.00" textLength="21.59" lengthAdjust="spacingAndGlyphs">30</text>
<text class="t" font-size="16.30" x="446.34" y="466.00" textLength="20.77" lengthAdjust="spacingAndGlyphs">40</text>
<text class="t" font-size="19.60" x="228.05" y="507.40" textLength="116.34" lengthAdjust="spacingAndGlyphs">Age (years)</text>
<text class="t" font-size="22.50" x="26.10" y="255.33" textLength="87.80" lengthAdjust="spacingAndGlyphs" transform="rotate(-90 26.10 255.33)">Frequency</text>
</g>
</svg>
</body></html>
